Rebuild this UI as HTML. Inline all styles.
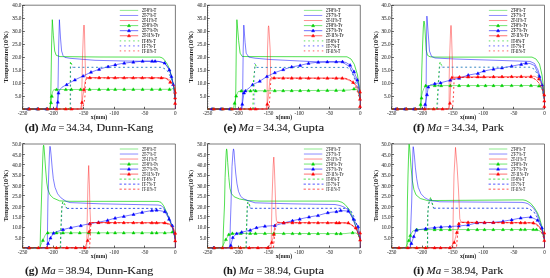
<!DOCTYPE html>
<html><head><meta charset="utf-8"><title>Temperature profiles</title>
<style>html,body{margin:0;padding:0;background:#fff;width:550px;height:278px;overflow:hidden}svg{display:block}</style>
</head><body>
<svg width="550" height="278" viewBox="0 0 550 278"><defs><clipPath id="c0"><rect x="20.6" y="5" width="156.8" height="106"/></clipPath><clipPath id="c1"><rect x="205.5" y="5" width="156.8" height="106"/></clipPath><clipPath id="c2"><rect x="389.7" y="5" width="156.8" height="106"/></clipPath><clipPath id="c3"><rect x="20.6" y="143.8" width="156.8" height="106"/></clipPath><clipPath id="c4"><rect x="205.5" y="143.8" width="156.8" height="106"/></clipPath><clipPath id="c5"><rect x="389.7" y="143.8" width="156.8" height="106"/></clipPath></defs><rect width="550" height="278" fill="#fff"/>
<g>
<path d="M22.6 5.2H175.4V109" fill="none" stroke="#5a5a5a" stroke-width="0.8"/>
<path d="M22.6 5V109H175.4" fill="none" stroke="#333" stroke-width="0.8"/>
<path d="M22.6 106.4H23.5M22.6 103.8H23.5M22.6 101.2H23.5M22.6 98.6H23.5M22.6 93.4H23.5M22.6 90.8H23.5M22.6 88.2H23.5M22.6 85.6H23.5M22.6 80.4H23.5M22.6 77.8H23.5M22.6 75.2H23.5M22.6 72.6H23.5M22.6 67.4H23.5M22.6 64.8H23.5M22.6 62.2H23.5M22.6 59.6H23.5M22.6 54.4H23.5M22.6 51.8H23.5M22.6 49.2H23.5M22.6 46.6H23.5M22.6 41.4H23.5M22.6 38.8H23.5M22.6 36.2H23.5M22.6 33.6H23.5M22.6 28.4H23.5M22.6 25.8H23.5M22.6 23.2H23.5M22.6 20.6H23.5M22.6 15.4H23.5M22.6 12.8H23.5M22.6 10.2H23.5M22.6 7.6H23.5" stroke="#333" stroke-width="0.5" fill="none"/>
<path d="M22.5 109V106.8M53.5 109V106.8M83.5 109V106.8M114.5 109V106.8M144.5 109V106.8M175.5 109V106.8M22.6 109.5H24.8M22.6 96.5H24.8M22.6 83.5H24.8M22.6 70.5H24.8M22.6 57.5H24.8M22.6 44.5H24.8M22.6 31.5H24.8M22.6 18.5H24.8M22.6 5.5H24.8" stroke="#333" stroke-width="0.8" fill="none"/>
<g font-family="Liberation Serif, serif" font-size="5.2" fill="#333" stroke="#333" stroke-width="0.06"><text x="22.6" y="115" text-anchor="middle">-250</text><text x="53.16" y="115" text-anchor="middle">-200</text><text x="83.72" y="115" text-anchor="middle">-150</text><text x="114.28" y="115" text-anchor="middle">-100</text><text x="144.84" y="115" text-anchor="middle">-50</text><text x="175.4" y="115" text-anchor="middle">0</text><text x="21.4" y="98.3" text-anchor="end">5.0</text><text x="21.4" y="85.3" text-anchor="end">10.0</text><text x="21.4" y="72.3" text-anchor="end">15.0</text><text x="21.4" y="59.3" text-anchor="end">20.0</text><text x="21.4" y="46.3" text-anchor="end">25.0</text><text x="21.4" y="33.3" text-anchor="end">30.0</text><text x="21.4" y="20.3" text-anchor="end">35.0</text><text x="21.4" y="7.3" text-anchor="end">40.0</text></g>
<text x="99" y="118.7" text-anchor="middle" font-family="Liberation Serif, serif" font-weight="bold" font-size="5.8" fill="#222">x(mm)</text>
<text transform="translate(8.4 56.8) rotate(-90)" x="0" y="0" text-anchor="middle" font-family="Liberation Serif, serif" font-weight="bold" font-size="5.6" fill="#222" textLength="51.2" lengthAdjust="spacingAndGlyphs">Temperature(10<tspan font-size="3.6" dy="-2">3</tspan><tspan dy="2">K)</tspan></text>
<g clip-path="url(#c0)">
<polyline points="22.6,109 50.3,109 50.8,95 51.6,45 52.3,19.7 53.4,35.9 54.7,51 56.2,55.3 60,56.6 100,57 159.9,57.1 162,57.8 164.2,59.5 167.6,64.7 169.8,69.9 171.5,76 173.2,84 174.5,92 175.4,100" fill="none" stroke="#00d000" stroke-width="0.85" stroke-linejoin="round" stroke-opacity="0.8"/>
<polyline points="22.6,109 57.4,109 57.9,95 58.7,45 59.4,19.7 60.5,38 61.6,51 63,55.5 64.8,57.4 70,58.3 95,60.3 125,61 145,61.3 158,61.3 161,61.8 164.6,63.2 167.5,66.5 169.4,70 171,75 172.5,81 174,88 175.4,100" fill="none" stroke="#0000ff" stroke-width="0.85" stroke-linejoin="round" stroke-opacity="0.6"/>
<polyline points="22.6,109 81.8,109 81.9,90 82.4,60 83.6,27 84,25 84.4,27 85.1,60 85.6,76 86.3,77.6 88,77.7 165,77.8 170,80 173,84 175,89 175.4,100" fill="none" stroke="#ff0000" stroke-width="0.75" stroke-linejoin="round" stroke-opacity="0.55"/>
<polyline points="22.6,109 49.4,109 51,102.7 51.8,96.2 52.5,92 53.7,89.7 56,89.5 171.3,89.3 174.4,87.8 175.4,100 175.4,109" fill="none" stroke="#00d000" stroke-width="0.7" stroke-linejoin="round" stroke-opacity="0.7"/>
<path d="M27.35 110.1L30.45 110.1L28.9 107.4Z" fill="#00d000" stroke="#00d000" stroke-width="0.45" stroke-linejoin="miter"/>
<path d="M36.45 110.1L39.55 110.1L38 107.4Z" fill="#00d000" stroke="#00d000" stroke-width="0.45" stroke-linejoin="miter"/>
<path d="M45.55 110.1L48.65 110.1L47.1 107.4Z" fill="#00d000" stroke="#00d000" stroke-width="0.45" stroke-linejoin="miter"/>
<path d="M49.45 103.8L52.55 103.8L51 101.1Z" fill="#00d000" stroke="#00d000" stroke-width="0.45" stroke-linejoin="miter"/>
<path d="M50.25 97.3L53.35 97.3L51.8 94.6Z" fill="#00d000" stroke="#00d000" stroke-width="0.45" stroke-linejoin="miter"/>
<path d="M55.05 90.6L58.15 90.6L56.6 87.9Z" fill="#00d000" stroke="#00d000" stroke-width="0.45" stroke-linejoin="miter"/>
<path d="M64.25 90.58L67.35 90.58L65.8 87.88Z" fill="#00d000" stroke="#00d000" stroke-width="0.45" stroke-linejoin="miter"/>
<path d="M69.85 90.57L72.95 90.57L71.4 87.87Z" fill="#00d000" stroke="#00d000" stroke-width="0.45" stroke-linejoin="miter"/>
<path d="M79.05 90.56L82.15 90.56L80.6 87.86Z" fill="#00d000" stroke="#00d000" stroke-width="0.45" stroke-linejoin="miter"/>
<path d="M88.05 90.54L91.15 90.54L89.6 87.84Z" fill="#00d000" stroke="#00d000" stroke-width="0.45" stroke-linejoin="miter"/>
<path d="M97.55 90.53L100.65 90.53L99.1 87.83Z" fill="#00d000" stroke="#00d000" stroke-width="0.45" stroke-linejoin="miter"/>
<path d="M106.55 90.51L109.65 90.51L108.1 87.81Z" fill="#00d000" stroke="#00d000" stroke-width="0.45" stroke-linejoin="miter"/>
<path d="M113.65 90.5L116.75 90.5L115.2 87.8Z" fill="#00d000" stroke="#00d000" stroke-width="0.45" stroke-linejoin="miter"/>
<path d="M122.65 90.48L125.75 90.48L124.2 87.78Z" fill="#00d000" stroke="#00d000" stroke-width="0.45" stroke-linejoin="miter"/>
<path d="M131.75 90.47L134.85 90.47L133.3 87.77Z" fill="#00d000" stroke="#00d000" stroke-width="0.45" stroke-linejoin="miter"/>
<path d="M141.05 90.45L144.15 90.45L142.6 87.75Z" fill="#00d000" stroke="#00d000" stroke-width="0.45" stroke-linejoin="miter"/>
<path d="M150.25 90.43L153.35 90.43L151.8 87.73Z" fill="#00d000" stroke="#00d000" stroke-width="0.45" stroke-linejoin="miter"/>
<path d="M158.55 90.42L161.65 90.42L160.1 87.72Z" fill="#00d000" stroke="#00d000" stroke-width="0.45" stroke-linejoin="miter"/>
<path d="M167.95 90.4L171.05 90.4L169.5 87.7Z" fill="#00d000" stroke="#00d000" stroke-width="0.45" stroke-linejoin="miter"/>
<polyline points="22.6,109 55.9,109 57.8,102.1 58.5,93 60,89.5 62,87.2 66.7,84.6 74.9,79.9 83.1,76 91,72.2 99.1,69.3 108.1,66.6 115.2,64.8 124.2,63.1 133.3,62.1 142.4,61.2 155.1,61.2 159,61.6 164.6,63 169.4,69.9 171.4,76.5 173.2,84.4 175.4,100 175.4,109" fill="none" stroke="#0000ff" stroke-width="0.7" stroke-linejoin="round" stroke-opacity="0.75"/>
<path d="M26.65 110.1L29.75 110.1L28.2 107.4Z" fill="#0000ff" stroke="#0000ff" stroke-width="0.45" stroke-linejoin="miter"/>
<path d="M35.75 110.1L38.85 110.1L37.3 107.4Z" fill="#0000ff" stroke="#0000ff" stroke-width="0.45" stroke-linejoin="miter"/>
<path d="M44.85 110.1L47.95 110.1L46.4 107.4Z" fill="#0000ff" stroke="#0000ff" stroke-width="0.45" stroke-linejoin="miter"/>
<path d="M56.25 103.2L59.35 103.2L57.8 100.5Z" fill="#0000ff" stroke="#0000ff" stroke-width="0.45" stroke-linejoin="miter"/>
<path d="M56.95 94.1L60.05 94.1L58.5 91.4Z" fill="#0000ff" stroke="#0000ff" stroke-width="0.45" stroke-linejoin="miter"/>
<path d="M65.15 85.7L68.25 85.7L66.7 83Z" fill="#0000ff" stroke="#0000ff" stroke-width="0.45" stroke-linejoin="miter"/>
<path d="M73.35 81L76.45 81L74.9 78.3Z" fill="#0000ff" stroke="#0000ff" stroke-width="0.45" stroke-linejoin="miter"/>
<path d="M81.55 77.1L84.65 77.1L83.1 74.4Z" fill="#0000ff" stroke="#0000ff" stroke-width="0.45" stroke-linejoin="miter"/>
<path d="M89.45 73.3L92.55 73.3L91 70.6Z" fill="#0000ff" stroke="#0000ff" stroke-width="0.45" stroke-linejoin="miter"/>
<path d="M97.55 70.4L100.65 70.4L99.1 67.7Z" fill="#0000ff" stroke="#0000ff" stroke-width="0.45" stroke-linejoin="miter"/>
<path d="M106.55 67.7L109.65 67.7L108.1 65Z" fill="#0000ff" stroke="#0000ff" stroke-width="0.45" stroke-linejoin="miter"/>
<path d="M113.65 65.9L116.75 65.9L115.2 63.2Z" fill="#0000ff" stroke="#0000ff" stroke-width="0.45" stroke-linejoin="miter"/>
<path d="M122.65 64.2L125.75 64.2L124.2 61.5Z" fill="#0000ff" stroke="#0000ff" stroke-width="0.45" stroke-linejoin="miter"/>
<path d="M131.75 63.2L134.85 63.2L133.3 60.5Z" fill="#0000ff" stroke="#0000ff" stroke-width="0.45" stroke-linejoin="miter"/>
<path d="M141.05 62.3L144.15 62.3L142.6 59.6Z" fill="#0000ff" stroke="#0000ff" stroke-width="0.45" stroke-linejoin="miter"/>
<path d="M150.55 62.3L153.65 62.3L152.1 59.6Z" fill="#0000ff" stroke="#0000ff" stroke-width="0.45" stroke-linejoin="miter"/>
<path d="M153.55 62.3L156.65 62.3L155.1 59.6Z" fill="#0000ff" stroke="#0000ff" stroke-width="0.45" stroke-linejoin="miter"/>
<path d="M163.05 64.1L166.15 64.1L164.6 61.4Z" fill="#0000ff" stroke="#0000ff" stroke-width="0.45" stroke-linejoin="miter"/>
<path d="M167.85 71L170.95 71L169.4 68.3Z" fill="#0000ff" stroke="#0000ff" stroke-width="0.45" stroke-linejoin="miter"/>
<path d="M169.85 77.6L172.95 77.6L171.4 74.9Z" fill="#0000ff" stroke="#0000ff" stroke-width="0.45" stroke-linejoin="miter"/>
<path d="M171.65 85.5L174.75 85.5L173.2 82.8Z" fill="#0000ff" stroke="#0000ff" stroke-width="0.45" stroke-linejoin="miter"/>
<polyline points="22.6,109 80.5,109 82,102.4 83,95 84,89.6 85,82 86.3,77.9 89.8,77.7 161.3,77.8 166,78.5 170.2,82 172.5,84 174.4,85.6 175.4,88 175.4,109" fill="none" stroke="#ff0000" stroke-width="0.7" stroke-linejoin="round" stroke-opacity="0.6"/>
<path d="M27.85 110.1L30.95 110.1L29.4 107.4Z" fill="#ff0000" stroke="#ff0000" stroke-width="0.45" stroke-linejoin="miter"/>
<path d="M36.95 110.1L40.05 110.1L38.5 107.4Z" fill="#ff0000" stroke="#ff0000" stroke-width="0.45" stroke-linejoin="miter"/>
<path d="M46.05 110.1L49.15 110.1L47.6 107.4Z" fill="#ff0000" stroke="#ff0000" stroke-width="0.45" stroke-linejoin="miter"/>
<path d="M54.95 110.1L58.05 110.1L56.5 107.4Z" fill="#ff0000" stroke="#ff0000" stroke-width="0.45" stroke-linejoin="miter"/>
<path d="M64.25 110.1L67.35 110.1L65.8 107.4Z" fill="#ff0000" stroke="#ff0000" stroke-width="0.45" stroke-linejoin="miter"/>
<path d="M69.85 110.1L72.95 110.1L71.4 107.4Z" fill="#ff0000" stroke="#ff0000" stroke-width="0.45" stroke-linejoin="miter"/>
<path d="M80.45 103.5L83.55 103.5L82 100.8Z" fill="#ff0000" stroke="#ff0000" stroke-width="0.45" stroke-linejoin="miter"/>
<path d="M82.45 90.7L85.55 90.7L84 88Z" fill="#ff0000" stroke="#ff0000" stroke-width="0.45" stroke-linejoin="miter"/>
<path d="M88.25 78.8L91.35 78.8L89.8 76.1Z" fill="#ff0000" stroke="#ff0000" stroke-width="0.45" stroke-linejoin="miter"/>
<path d="M97.55 78.81L100.65 78.81L99.1 76.11Z" fill="#ff0000" stroke="#ff0000" stroke-width="0.45" stroke-linejoin="miter"/>
<path d="M106.55 78.83L109.65 78.83L108.1 76.13Z" fill="#ff0000" stroke="#ff0000" stroke-width="0.45" stroke-linejoin="miter"/>
<path d="M113.65 78.84L116.75 78.84L115.2 76.14Z" fill="#ff0000" stroke="#ff0000" stroke-width="0.45" stroke-linejoin="miter"/>
<path d="M122.65 78.85L125.75 78.85L124.2 76.15Z" fill="#ff0000" stroke="#ff0000" stroke-width="0.45" stroke-linejoin="miter"/>
<path d="M131.75 78.86L134.85 78.86L133.3 76.16Z" fill="#ff0000" stroke="#ff0000" stroke-width="0.45" stroke-linejoin="miter"/>
<path d="M140.85 78.87L143.95 78.87L142.4 76.17Z" fill="#ff0000" stroke="#ff0000" stroke-width="0.45" stroke-linejoin="miter"/>
<path d="M150.35 78.89L153.45 78.89L151.9 76.19Z" fill="#ff0000" stroke="#ff0000" stroke-width="0.45" stroke-linejoin="miter"/>
<path d="M159.75 78.9L162.85 78.9L161.3 76.2Z" fill="#ff0000" stroke="#ff0000" stroke-width="0.45" stroke-linejoin="miter"/>
<path d="M168.65 83.3L171.75 83.3L170.2 80.6Z" fill="#ff0000" stroke="#ff0000" stroke-width="0.45" stroke-linejoin="miter"/>
<path d="M173.55 93.3L176.65 93.3L175.1 90.6Z" fill="#ff0000" stroke="#ff0000" stroke-width="0.45" stroke-linejoin="miter"/>
<path d="M173.55 98.9L176.65 98.9L175.1 96.2Z" fill="#ff0000" stroke="#ff0000" stroke-width="0.45" stroke-linejoin="miter"/>
<path d="M173.55 104.4L176.65 104.4L175.1 101.7Z" fill="#ff0000" stroke="#ff0000" stroke-width="0.45" stroke-linejoin="miter"/>
<polyline points="22.6,109 70.2,109" fill="none" stroke="#00d000" stroke-width="0.8" stroke-linejoin="round" stroke-dasharray="1.9 2.6" stroke-opacity="0.8"/>
<polyline points="70.2,109 70.4,61.3 72.5,66.2 73.5,67.3" fill="none" stroke="#00d000" stroke-width="0.9" stroke-linejoin="round" stroke-dasharray="1.9 2.6" stroke-opacity="0.95"/>
<polyline points="70.6,109 70.6,66 72,67.3 73.5,67.3" fill="none" stroke="#0000ff" stroke-width="0.8" stroke-linejoin="round" stroke-dasharray="1.9 2.6" stroke-opacity="0.4"/>
<polyline points="73.5,67.3 161.6,67.3 165.9,69.4 168.5,72.5 171,78 173.5,87 175.4,100" fill="none" stroke="#2a80c0" stroke-width="1.0" stroke-linejoin="round" stroke-dasharray="1.9 2.6" stroke-opacity="0.95"/>
<polyline points="22.6,109 82.8,109 84.5,100 85,95.6 85.5,81.3 87,78.3 89,78 166,78 171,82 174,86 175.4,100" fill="none" stroke="#ff0000" stroke-width="0.9" stroke-linejoin="round" stroke-dasharray="1.9 2.6" stroke-opacity="0.85"/>
</g>
<path d="M119.8 10.4H138.2" stroke="#00d000" stroke-width="0.75" stroke-opacity="0.6"/>
<path d="M119.8 15.47H138.2" stroke="#0000ff" stroke-width="0.75" stroke-opacity="0.6"/>
<path d="M119.8 20.54H138.2" stroke="#ff0000" stroke-width="0.75" stroke-opacity="0.6"/>
<path d="M119.8 25.61H138.2" stroke="#00d000" stroke-width="0.75" stroke-opacity="0.75"/>
<path d="M127.45 26.71L130.55 26.71L129 24.01Z" fill="#00d000" stroke="#00d000" stroke-width="0.45" stroke-linejoin="miter"/>
<path d="M119.8 30.68H138.2" stroke="#0000ff" stroke-width="0.75" stroke-opacity="0.75"/>
<path d="M127.45 31.78L130.55 31.78L129 29.08Z" fill="#0000ff" stroke="#0000ff" stroke-width="0.45" stroke-linejoin="miter"/>
<path d="M119.8 35.75H138.2" stroke="#ff0000" stroke-width="0.75" stroke-opacity="0.75"/>
<path d="M127.45 36.85L130.55 36.85L129 34.15Z" fill="#ff0000" stroke="#ff0000" stroke-width="0.45" stroke-linejoin="miter"/>
<path d="M119.7 40.82H139.2" stroke="#00d000" stroke-width="1.3" stroke-opacity="0.5" stroke-dasharray="1.5 3.0"/>
<path d="M119.7 45.89H139.2" stroke="#0000ff" stroke-width="1.3" stroke-opacity="0.5" stroke-dasharray="1.5 3.0"/>
<path d="M119.7 50.96H139.2" stroke="#ff0000" stroke-width="1.3" stroke-opacity="0.5" stroke-dasharray="1.5 3.0"/>
<g font-family="Liberation Serif, serif" font-weight="bold" font-size="5.2" fill="#1e1e1e"><text x="141.95" y="12.1" textLength="14.38" lengthAdjust="spacingAndGlyphs">2T-8%-T</text><text x="141.95" y="17.17" textLength="14.38" lengthAdjust="spacingAndGlyphs">2T-7%-T</text><text x="141.96" y="22.24" textLength="15.19" lengthAdjust="spacingAndGlyphs">2T-11%-T</text><text x="141.95" y="27.31" textLength="16.21" lengthAdjust="spacingAndGlyphs">2T-8%-Tv</text><text x="141.95" y="32.38" textLength="16.21" lengthAdjust="spacingAndGlyphs">2T-7%-Tv</text><text x="141.95" y="37.45" textLength="17.62" lengthAdjust="spacingAndGlyphs">2T-11%-Tv</text><text x="141.82" y="42.52" textLength="13.82" lengthAdjust="spacingAndGlyphs">1T-8%-T</text><text x="141.82" y="47.59" textLength="13.82" lengthAdjust="spacingAndGlyphs">1T-7%-T</text><text x="141.84" y="52.66" textLength="14.31" lengthAdjust="spacingAndGlyphs">1T-11%-T</text></g>
</g>
<g>
<path d="M207.5 5.2H360.3V109" fill="none" stroke="#5a5a5a" stroke-width="0.8"/>
<path d="M207.5 5V109H360.3" fill="none" stroke="#333" stroke-width="0.8"/>
<path d="M207.5 106.4H208.4M207.5 103.8H208.4M207.5 101.2H208.4M207.5 98.6H208.4M207.5 93.4H208.4M207.5 90.8H208.4M207.5 88.2H208.4M207.5 85.6H208.4M207.5 80.4H208.4M207.5 77.8H208.4M207.5 75.2H208.4M207.5 72.6H208.4M207.5 67.4H208.4M207.5 64.8H208.4M207.5 62.2H208.4M207.5 59.6H208.4M207.5 54.4H208.4M207.5 51.8H208.4M207.5 49.2H208.4M207.5 46.6H208.4M207.5 41.4H208.4M207.5 38.8H208.4M207.5 36.2H208.4M207.5 33.6H208.4M207.5 28.4H208.4M207.5 25.8H208.4M207.5 23.2H208.4M207.5 20.6H208.4M207.5 15.4H208.4M207.5 12.8H208.4M207.5 10.2H208.4M207.5 7.6H208.4" stroke="#333" stroke-width="0.5" fill="none"/>
<path d="M207.5 109V106.8M238.5 109V106.8M268.5 109V106.8M299.5 109V106.8M329.5 109V106.8M360.5 109V106.8M207.5 109.5H209.7M207.5 96.5H209.7M207.5 83.5H209.7M207.5 70.5H209.7M207.5 57.5H209.7M207.5 44.5H209.7M207.5 31.5H209.7M207.5 18.5H209.7M207.5 5.5H209.7" stroke="#333" stroke-width="0.8" fill="none"/>
<g font-family="Liberation Serif, serif" font-size="5.2" fill="#333" stroke="#333" stroke-width="0.06"><text x="207.5" y="115" text-anchor="middle">-250</text><text x="238.06" y="115" text-anchor="middle">-200</text><text x="268.62" y="115" text-anchor="middle">-150</text><text x="299.18" y="115" text-anchor="middle">-100</text><text x="329.74" y="115" text-anchor="middle">-50</text><text x="360.3" y="115" text-anchor="middle">0</text><text x="206.3" y="98.3" text-anchor="end">5.0</text><text x="206.3" y="85.3" text-anchor="end">10.0</text><text x="206.3" y="72.3" text-anchor="end">15.0</text><text x="206.3" y="59.3" text-anchor="end">20.0</text><text x="206.3" y="46.3" text-anchor="end">25.0</text><text x="206.3" y="33.3" text-anchor="end">30.0</text><text x="206.3" y="20.3" text-anchor="end">35.0</text><text x="206.3" y="7.3" text-anchor="end">40.0</text></g>
<text x="283.9" y="118.7" text-anchor="middle" font-family="Liberation Serif, serif" font-weight="bold" font-size="5.8" fill="#222">x(mm)</text>
<text transform="translate(193.3 56.8) rotate(-90)" x="0" y="0" text-anchor="middle" font-family="Liberation Serif, serif" font-weight="bold" font-size="5.6" fill="#222" textLength="51.2" lengthAdjust="spacingAndGlyphs">Temperature(10<tspan font-size="3.6" dy="-2">3</tspan><tspan dy="2">K)</tspan></text>
<g clip-path="url(#c1)">
<polyline points="207.5,109 235.2,109 235.8,90 236.3,45 236.9,19.7 238.6,40.3 240.1,53.2 242.3,56.5 250,56.6 347,56.8 351,59 354.3,64.3 357.5,75 359.5,88.4 360.3,100" fill="none" stroke="#00d000" stroke-width="0.85" stroke-linejoin="round" stroke-opacity="0.8"/>
<polyline points="207.5,109 241.9,109 242.7,90 243.2,50 243.8,25.1 245.1,42.4 246.2,53.2 248.8,57.1 255,58.2 270,59.5 318,61.9 342,62 349.5,66.5 354.3,76.3 357.9,83.5 360.3,100" fill="none" stroke="#0000ff" stroke-width="0.85" stroke-linejoin="round" stroke-opacity="0.6"/>
<polyline points="207.5,109 267.1,109 267.2,78 267.5,50 268.3,27.5 268.6,25.8 268.9,27.5 270.2,50 270.4,60 270.6,76 271.5,77.8 273,78 345,78.2 350,80 353.1,82.3 357,87 360.3,100" fill="none" stroke="#ff0000" stroke-width="0.75" stroke-linejoin="round" stroke-opacity="0.55"/>
<polyline points="207.5,109 233.1,109 234.6,103.2 236.2,96 238.2,91.5 241.3,90.9 343.6,90.3 350,90 354,88.9 357,89.5 359,93 360.3,100 360.3,109" fill="none" stroke="#00d000" stroke-width="0.7" stroke-linejoin="round" stroke-opacity="0.7"/>
<path d="M211.45 110.1L214.55 110.1L213 107.4Z" fill="#00d000" stroke="#00d000" stroke-width="0.45" stroke-linejoin="miter"/>
<path d="M220.45 110.1L223.55 110.1L222 107.4Z" fill="#00d000" stroke="#00d000" stroke-width="0.45" stroke-linejoin="miter"/>
<path d="M229.45 110.1L232.55 110.1L231 107.4Z" fill="#00d000" stroke="#00d000" stroke-width="0.45" stroke-linejoin="miter"/>
<path d="M233.05 104.3L236.15 104.3L234.6 101.6Z" fill="#00d000" stroke="#00d000" stroke-width="0.45" stroke-linejoin="miter"/>
<path d="M234.65 97.1L237.75 97.1L236.2 94.4Z" fill="#00d000" stroke="#00d000" stroke-width="0.45" stroke-linejoin="miter"/>
<path d="M239.75 92L242.85 92L241.3 89.3Z" fill="#00d000" stroke="#00d000" stroke-width="0.45" stroke-linejoin="miter"/>
<path d="M248.95 91.95L252.05 91.95L250.5 89.25Z" fill="#00d000" stroke="#00d000" stroke-width="0.45" stroke-linejoin="miter"/>
<path d="M254.15 91.92L257.25 91.92L255.7 89.22Z" fill="#00d000" stroke="#00d000" stroke-width="0.45" stroke-linejoin="miter"/>
<path d="M263.35 91.86L266.45 91.86L264.9 89.16Z" fill="#00d000" stroke="#00d000" stroke-width="0.45" stroke-linejoin="miter"/>
<path d="M273.25 91.8L276.35 91.8L274.8 89.1Z" fill="#00d000" stroke="#00d000" stroke-width="0.45" stroke-linejoin="miter"/>
<path d="M281.65 91.75L284.75 91.75L283.2 89.05Z" fill="#00d000" stroke="#00d000" stroke-width="0.45" stroke-linejoin="miter"/>
<path d="M290.15 91.7L293.25 91.7L291.7 89Z" fill="#00d000" stroke="#00d000" stroke-width="0.45" stroke-linejoin="miter"/>
<path d="M298.55 91.66L301.65 91.66L300.1 88.96Z" fill="#00d000" stroke="#00d000" stroke-width="0.45" stroke-linejoin="miter"/>
<path d="M306.95 91.61L310.05 91.61L308.5 88.91Z" fill="#00d000" stroke="#00d000" stroke-width="0.45" stroke-linejoin="miter"/>
<path d="M316.65 91.55L319.75 91.55L318.2 88.85Z" fill="#00d000" stroke="#00d000" stroke-width="0.45" stroke-linejoin="miter"/>
<path d="M325.75 91.5L328.85 91.5L327.3 88.8Z" fill="#00d000" stroke="#00d000" stroke-width="0.45" stroke-linejoin="miter"/>
<path d="M334.55 91.44L337.65 91.44L336.1 88.74Z" fill="#00d000" stroke="#00d000" stroke-width="0.45" stroke-linejoin="miter"/>
<path d="M342.05 91.4L345.15 91.4L343.6 88.7Z" fill="#00d000" stroke="#00d000" stroke-width="0.45" stroke-linejoin="miter"/>
<path d="M352.45 90L355.55 90L354 87.3Z" fill="#00d000" stroke="#00d000" stroke-width="0.45" stroke-linejoin="miter"/>
<polyline points="207.5,109 241.3,109 242.3,104.2 244,92.9 245.4,90.9 250.5,86.8 252.6,84.7 259.8,81.2 266.9,76.5 274.8,72.7 283.2,69.6 291.7,66.9 300.1,65.4 308.5,63.3 318.2,62.2 327.3,61.8 342.5,61.7 346,62.5 350.1,65.1 354,71.6 357,79 359,86 360.3,100 360.3,109" fill="none" stroke="#0000ff" stroke-width="0.7" stroke-linejoin="round" stroke-opacity="0.75"/>
<path d="M210.45 110.1L213.55 110.1L212 107.4Z" fill="#0000ff" stroke="#0000ff" stroke-width="0.45" stroke-linejoin="miter"/>
<path d="M219.45 110.1L222.55 110.1L221 107.4Z" fill="#0000ff" stroke="#0000ff" stroke-width="0.45" stroke-linejoin="miter"/>
<path d="M228.45 110.1L231.55 110.1L230 107.4Z" fill="#0000ff" stroke="#0000ff" stroke-width="0.45" stroke-linejoin="miter"/>
<path d="M240.75 105.3L243.85 105.3L242.3 102.6Z" fill="#0000ff" stroke="#0000ff" stroke-width="0.45" stroke-linejoin="miter"/>
<path d="M242.45 94L245.55 94L244 91.3Z" fill="#0000ff" stroke="#0000ff" stroke-width="0.45" stroke-linejoin="miter"/>
<path d="M243.85 92L246.95 92L245.4 89.3Z" fill="#0000ff" stroke="#0000ff" stroke-width="0.45" stroke-linejoin="miter"/>
<path d="M251.05 85.8L254.15 85.8L252.6 83.1Z" fill="#0000ff" stroke="#0000ff" stroke-width="0.45" stroke-linejoin="miter"/>
<path d="M258.25 82.3L261.35 82.3L259.8 79.6Z" fill="#0000ff" stroke="#0000ff" stroke-width="0.45" stroke-linejoin="miter"/>
<path d="M265.35 77.6L268.45 77.6L266.9 74.9Z" fill="#0000ff" stroke="#0000ff" stroke-width="0.45" stroke-linejoin="miter"/>
<path d="M273.25 73.8L276.35 73.8L274.8 71.1Z" fill="#0000ff" stroke="#0000ff" stroke-width="0.45" stroke-linejoin="miter"/>
<path d="M281.65 70.7L284.75 70.7L283.2 68Z" fill="#0000ff" stroke="#0000ff" stroke-width="0.45" stroke-linejoin="miter"/>
<path d="M290.15 68L293.25 68L291.7 65.3Z" fill="#0000ff" stroke="#0000ff" stroke-width="0.45" stroke-linejoin="miter"/>
<path d="M298.55 66.5L301.65 66.5L300.1 63.8Z" fill="#0000ff" stroke="#0000ff" stroke-width="0.45" stroke-linejoin="miter"/>
<path d="M306.95 64.4L310.05 64.4L308.5 61.7Z" fill="#0000ff" stroke="#0000ff" stroke-width="0.45" stroke-linejoin="miter"/>
<path d="M316.65 63.3L319.75 63.3L318.2 60.6Z" fill="#0000ff" stroke="#0000ff" stroke-width="0.45" stroke-linejoin="miter"/>
<path d="M325.75 62.9L328.85 62.9L327.3 60.2Z" fill="#0000ff" stroke="#0000ff" stroke-width="0.45" stroke-linejoin="miter"/>
<path d="M334.65 62.84L337.75 62.84L336.2 60.14Z" fill="#0000ff" stroke="#0000ff" stroke-width="0.45" stroke-linejoin="miter"/>
<path d="M340.95 62.8L344.05 62.8L342.5 60.1Z" fill="#0000ff" stroke="#0000ff" stroke-width="0.45" stroke-linejoin="miter"/>
<path d="M348.55 66.2L351.65 66.2L350.1 63.5Z" fill="#0000ff" stroke="#0000ff" stroke-width="0.45" stroke-linejoin="miter"/>
<path d="M352.45 72.7L355.55 72.7L354 70Z" fill="#0000ff" stroke="#0000ff" stroke-width="0.45" stroke-linejoin="miter"/>
<path d="M355.75 81.1L358.85 81.1L357.3 78.4Z" fill="#0000ff" stroke="#0000ff" stroke-width="0.45" stroke-linejoin="miter"/>
<polyline points="207.5,109 265.9,109 267.3,104.2 268.5,95 270,78.6 272,78 342.3,78.2 347,79.5 353.1,82.3 357,86 360.3,90 360.3,109" fill="none" stroke="#ff0000" stroke-width="0.7" stroke-linejoin="round" stroke-opacity="0.6"/>
<path d="M212.45 110.1L215.55 110.1L214 107.4Z" fill="#ff0000" stroke="#ff0000" stroke-width="0.45" stroke-linejoin="miter"/>
<path d="M221.45 110.1L224.55 110.1L223 107.4Z" fill="#ff0000" stroke="#ff0000" stroke-width="0.45" stroke-linejoin="miter"/>
<path d="M230.45 110.1L233.55 110.1L232 107.4Z" fill="#ff0000" stroke="#ff0000" stroke-width="0.45" stroke-linejoin="miter"/>
<path d="M238.75 110.1L241.85 110.1L240.3 107.4Z" fill="#ff0000" stroke="#ff0000" stroke-width="0.45" stroke-linejoin="miter"/>
<path d="M248.95 110.1L252.05 110.1L250.5 107.4Z" fill="#ff0000" stroke="#ff0000" stroke-width="0.45" stroke-linejoin="miter"/>
<path d="M254.15 110.1L257.25 110.1L255.7 107.4Z" fill="#ff0000" stroke="#ff0000" stroke-width="0.45" stroke-linejoin="miter"/>
<path d="M265.75 105.3L268.85 105.3L267.3 102.6Z" fill="#ff0000" stroke="#ff0000" stroke-width="0.45" stroke-linejoin="miter"/>
<path d="M272.55 79.11L275.65 79.11L274.1 76.41Z" fill="#ff0000" stroke="#ff0000" stroke-width="0.45" stroke-linejoin="miter"/>
<path d="M281.65 79.13L284.75 79.13L283.2 76.43Z" fill="#ff0000" stroke="#ff0000" stroke-width="0.45" stroke-linejoin="miter"/>
<path d="M290.15 79.16L293.25 79.16L291.7 76.46Z" fill="#ff0000" stroke="#ff0000" stroke-width="0.45" stroke-linejoin="miter"/>
<path d="M298.55 79.18L301.65 79.18L300.1 76.48Z" fill="#ff0000" stroke="#ff0000" stroke-width="0.45" stroke-linejoin="miter"/>
<path d="M306.95 79.2L310.05 79.2L308.5 76.5Z" fill="#ff0000" stroke="#ff0000" stroke-width="0.45" stroke-linejoin="miter"/>
<path d="M316.65 79.23L319.75 79.23L318.2 76.53Z" fill="#ff0000" stroke="#ff0000" stroke-width="0.45" stroke-linejoin="miter"/>
<path d="M325.75 79.26L328.85 79.26L327.3 76.56Z" fill="#ff0000" stroke="#ff0000" stroke-width="0.45" stroke-linejoin="miter"/>
<path d="M334.65 79.28L337.75 79.28L336.2 76.58Z" fill="#ff0000" stroke="#ff0000" stroke-width="0.45" stroke-linejoin="miter"/>
<path d="M340.75 79.3L343.85 79.3L342.3 76.6Z" fill="#ff0000" stroke="#ff0000" stroke-width="0.45" stroke-linejoin="miter"/>
<path d="M351.55 83.4L354.65 83.4L353.1 80.7Z" fill="#ff0000" stroke="#ff0000" stroke-width="0.45" stroke-linejoin="miter"/>
<path d="M358.45 93.1L361.55 93.1L360 90.4Z" fill="#ff0000" stroke="#ff0000" stroke-width="0.45" stroke-linejoin="miter"/>
<path d="M358.45 100.3L361.55 100.3L360 97.6Z" fill="#ff0000" stroke="#ff0000" stroke-width="0.45" stroke-linejoin="miter"/>
<path d="M358.45 107.5L361.55 107.5L360 104.8Z" fill="#ff0000" stroke="#ff0000" stroke-width="0.45" stroke-linejoin="miter"/>
<polyline points="207.5,109 253,109" fill="none" stroke="#00d000" stroke-width="0.8" stroke-linejoin="round" stroke-dasharray="1.9 2.6" stroke-opacity="0.8"/>
<polyline points="253,109 253.5,80 255.3,64.2 256.7,67.4" fill="none" stroke="#00d000" stroke-width="0.9" stroke-linejoin="round" stroke-dasharray="1.9 2.6" stroke-opacity="0.95"/>
<polyline points="254.6,109 254.6,63.2 256.7,67.4" fill="none" stroke="#0000ff" stroke-width="0.8" stroke-linejoin="round" stroke-dasharray="1.9 2.6" stroke-opacity="0.4"/>
<polyline points="256.7,67.4 347,67.4 351,70 355,80 358,90 360.3,100" fill="none" stroke="#2a80c0" stroke-width="1.0" stroke-linejoin="round" stroke-dasharray="1.9 2.6" stroke-opacity="0.95"/>
<polyline points="207.5,109 269,109 270,95 270.5,85 271,78.5 273,78.3 345,78.3 350,80 355,85 360.3,100" fill="none" stroke="#ff0000" stroke-width="0.9" stroke-linejoin="round" stroke-dasharray="1.9 2.6" stroke-opacity="0.85"/>
</g>
<path d="M303.9 10.4H322.3" stroke="#00d000" stroke-width="0.75" stroke-opacity="0.6"/>
<path d="M303.9 15.47H322.3" stroke="#0000ff" stroke-width="0.75" stroke-opacity="0.6"/>
<path d="M303.9 20.54H322.3" stroke="#ff0000" stroke-width="0.75" stroke-opacity="0.6"/>
<path d="M303.9 25.61H322.3" stroke="#00d000" stroke-width="0.75" stroke-opacity="0.75"/>
<path d="M311.55 26.71L314.65 26.71L313.1 24.01Z" fill="#00d000" stroke="#00d000" stroke-width="0.45" stroke-linejoin="miter"/>
<path d="M303.9 30.68H322.3" stroke="#0000ff" stroke-width="0.75" stroke-opacity="0.75"/>
<path d="M311.55 31.78L314.65 31.78L313.1 29.08Z" fill="#0000ff" stroke="#0000ff" stroke-width="0.45" stroke-linejoin="miter"/>
<path d="M303.9 35.75H322.3" stroke="#ff0000" stroke-width="0.75" stroke-opacity="0.75"/>
<path d="M311.55 36.85L314.65 36.85L313.1 34.15Z" fill="#ff0000" stroke="#ff0000" stroke-width="0.45" stroke-linejoin="miter"/>
<path d="M303.8 40.82H323.3" stroke="#00d000" stroke-width="1.3" stroke-opacity="0.5" stroke-dasharray="1.5 3.0"/>
<path d="M303.8 45.89H323.3" stroke="#0000ff" stroke-width="1.3" stroke-opacity="0.5" stroke-dasharray="1.5 3.0"/>
<path d="M303.8 50.96H323.3" stroke="#ff0000" stroke-width="1.3" stroke-opacity="0.5" stroke-dasharray="1.5 3.0"/>
<g font-family="Liberation Serif, serif" font-weight="bold" font-size="5.2" fill="#1e1e1e"><text x="326.05" y="12.1" textLength="14.38" lengthAdjust="spacingAndGlyphs">2T-8%-T</text><text x="326.05" y="17.17" textLength="14.38" lengthAdjust="spacingAndGlyphs">2T-7%-T</text><text x="326.06" y="22.24" textLength="15.19" lengthAdjust="spacingAndGlyphs">2T-11%-T</text><text x="326.05" y="27.31" textLength="16.21" lengthAdjust="spacingAndGlyphs">2T-8%-Tv</text><text x="326.05" y="32.38" textLength="16.21" lengthAdjust="spacingAndGlyphs">2T-7%-Tv</text><text x="326.05" y="37.45" textLength="17.62" lengthAdjust="spacingAndGlyphs">2T-11%-Tv</text><text x="325.92" y="42.52" textLength="13.82" lengthAdjust="spacingAndGlyphs">1T-8%-T</text><text x="325.92" y="47.59" textLength="13.82" lengthAdjust="spacingAndGlyphs">1T-7%-T</text><text x="325.94" y="52.66" textLength="14.31" lengthAdjust="spacingAndGlyphs">1T-11%-T</text></g>
</g>
<g>
<path d="M391.7 5.2H544.5V109" fill="none" stroke="#5a5a5a" stroke-width="0.8"/>
<path d="M391.7 5V109H544.5" fill="none" stroke="#333" stroke-width="0.8"/>
<path d="M391.7 106.4H392.6M391.7 103.8H392.6M391.7 101.2H392.6M391.7 98.6H392.6M391.7 93.4H392.6M391.7 90.8H392.6M391.7 88.2H392.6M391.7 85.6H392.6M391.7 80.4H392.6M391.7 77.8H392.6M391.7 75.2H392.6M391.7 72.6H392.6M391.7 67.4H392.6M391.7 64.8H392.6M391.7 62.2H392.6M391.7 59.6H392.6M391.7 54.4H392.6M391.7 51.8H392.6M391.7 49.2H392.6M391.7 46.6H392.6M391.7 41.4H392.6M391.7 38.8H392.6M391.7 36.2H392.6M391.7 33.6H392.6M391.7 28.4H392.6M391.7 25.8H392.6M391.7 23.2H392.6M391.7 20.6H392.6M391.7 15.4H392.6M391.7 12.8H392.6M391.7 10.2H392.6M391.7 7.6H392.6" stroke="#333" stroke-width="0.5" fill="none"/>
<path d="M391.5 109V106.8M422.5 109V106.8M452.5 109V106.8M483.5 109V106.8M513.5 109V106.8M544.5 109V106.8M391.7 109.5H393.9M391.7 96.5H393.9M391.7 83.5H393.9M391.7 70.5H393.9M391.7 57.5H393.9M391.7 44.5H393.9M391.7 31.5H393.9M391.7 18.5H393.9M391.7 5.5H393.9" stroke="#333" stroke-width="0.8" fill="none"/>
<g font-family="Liberation Serif, serif" font-size="5.2" fill="#333" stroke="#333" stroke-width="0.06"><text x="391.7" y="115" text-anchor="middle">-250</text><text x="422.26" y="115" text-anchor="middle">-200</text><text x="452.82" y="115" text-anchor="middle">-150</text><text x="483.38" y="115" text-anchor="middle">-100</text><text x="513.94" y="115" text-anchor="middle">-50</text><text x="544.5" y="115" text-anchor="middle">0</text><text x="390.5" y="98.3" text-anchor="end">5.0</text><text x="390.5" y="85.3" text-anchor="end">10.0</text><text x="390.5" y="72.3" text-anchor="end">15.0</text><text x="390.5" y="59.3" text-anchor="end">20.0</text><text x="390.5" y="46.3" text-anchor="end">25.0</text><text x="390.5" y="33.3" text-anchor="end">30.0</text><text x="390.5" y="20.3" text-anchor="end">35.0</text><text x="390.5" y="7.3" text-anchor="end">40.0</text></g>
<text x="468.1" y="118.7" text-anchor="middle" font-family="Liberation Serif, serif" font-weight="bold" font-size="5.8" fill="#222">x(mm)</text>
<text transform="translate(377.5 56.8) rotate(-90)" x="0" y="0" text-anchor="middle" font-family="Liberation Serif, serif" font-weight="bold" font-size="5.6" fill="#222" textLength="51.2" lengthAdjust="spacingAndGlyphs">Temperature(10<tspan font-size="3.6" dy="-2">3</tspan><tspan dy="2">K)</tspan></text>
<g clip-path="url(#c2)">
<polyline points="391.7,109 420.9,109 421.2,95 421.8,70 422.6,45 423.3,28 423.8,21.5 424.1,21 424.6,24 425.3,35 426.2,50 427.5,55.3 430,56.8 435,57.1 532,57.1 536,59 539.5,64 542,75 543.8,90 544.5,100" fill="none" stroke="#00d000" stroke-width="0.85" stroke-linejoin="round" stroke-opacity="0.8"/>
<polyline points="391.7,109 426,109 426.2,80 426.5,40 426.9,16.1 428.4,36 429.5,51.1 431.6,56.5 435,58 455,59 530,61.4 534.5,63.5 538,70 541,80 543.5,90 544.5,100" fill="none" stroke="#0000ff" stroke-width="0.85" stroke-linejoin="round" stroke-opacity="0.6"/>
<polyline points="391.7,109 449.1,109 449.2,78 449.5,60 450.7,27 451,25.4 451.3,27 452.3,60 452.5,75 453.5,77.2 455,77.3 530,77 535,79 539,83 542.5,90 544.5,100" fill="none" stroke="#ff0000" stroke-width="0.75" stroke-linejoin="round" stroke-opacity="0.55"/>
<polyline points="391.7,109 420.2,109 421.2,98 422.5,92 424,88.2 425.7,85.7 428,85.6 535,85.5 539,86 542,88 544.5,100 544.5,109" fill="none" stroke="#00d000" stroke-width="0.7" stroke-linejoin="round" stroke-opacity="0.7"/>
<path d="M395.45 110.1L398.55 110.1L397 107.4Z" fill="#00d000" stroke="#00d000" stroke-width="0.45" stroke-linejoin="miter"/>
<path d="M404.45 110.1L407.55 110.1L406 107.4Z" fill="#00d000" stroke="#00d000" stroke-width="0.45" stroke-linejoin="miter"/>
<path d="M413.45 110.1L416.55 110.1L415 107.4Z" fill="#00d000" stroke="#00d000" stroke-width="0.45" stroke-linejoin="miter"/>
<path d="M419.05 105.6L422.15 105.6L420.6 102.9Z" fill="#00d000" stroke="#00d000" stroke-width="0.45" stroke-linejoin="miter"/>
<path d="M420.05 99.1L423.15 99.1L421.6 96.4Z" fill="#00d000" stroke="#00d000" stroke-width="0.45" stroke-linejoin="miter"/>
<path d="M424.15 86.8L427.25 86.8L425.7 84.1Z" fill="#00d000" stroke="#00d000" stroke-width="0.45" stroke-linejoin="miter"/>
<path d="M433.25 86.69L436.35 86.69L434.8 83.99Z" fill="#00d000" stroke="#00d000" stroke-width="0.45" stroke-linejoin="miter"/>
<path d="M439.65 86.69L442.75 86.69L441.2 83.99Z" fill="#00d000" stroke="#00d000" stroke-width="0.45" stroke-linejoin="miter"/>
<path d="M448.75 86.68L451.85 86.68L450.3 83.98Z" fill="#00d000" stroke="#00d000" stroke-width="0.45" stroke-linejoin="miter"/>
<path d="M457.55 86.67L460.65 86.67L459.1 83.97Z" fill="#00d000" stroke="#00d000" stroke-width="0.45" stroke-linejoin="miter"/>
<path d="M466.65 86.66L469.75 86.66L468.2 83.96Z" fill="#00d000" stroke="#00d000" stroke-width="0.45" stroke-linejoin="miter"/>
<path d="M476.35 86.65L479.45 86.65L477.9 83.95Z" fill="#00d000" stroke="#00d000" stroke-width="0.45" stroke-linejoin="miter"/>
<path d="M483.95 86.65L487.05 86.65L485.5 83.95Z" fill="#00d000" stroke="#00d000" stroke-width="0.45" stroke-linejoin="miter"/>
<path d="M491.95 86.64L495.05 86.64L493.5 83.94Z" fill="#00d000" stroke="#00d000" stroke-width="0.45" stroke-linejoin="miter"/>
<path d="M500.45 86.63L503.55 86.63L502 83.93Z" fill="#00d000" stroke="#00d000" stroke-width="0.45" stroke-linejoin="miter"/>
<path d="M510.05 86.62L513.15 86.62L511.6 83.92Z" fill="#00d000" stroke="#00d000" stroke-width="0.45" stroke-linejoin="miter"/>
<path d="M519.65 86.61L522.75 86.61L521.2 83.91Z" fill="#00d000" stroke="#00d000" stroke-width="0.45" stroke-linejoin="miter"/>
<path d="M529.45 86.6L532.55 86.6L531 83.9Z" fill="#00d000" stroke="#00d000" stroke-width="0.45" stroke-linejoin="miter"/>
<path d="M537.45 87.1L540.55 87.1L539 84.4Z" fill="#00d000" stroke="#00d000" stroke-width="0.45" stroke-linejoin="miter"/>
<polyline points="391.7,109 424.3,109 425.1,104.4 427,94.7 428.3,87 430,85 434.8,83.7 440.6,82.8 450.3,80.2 459.1,78.2 468.2,75.1 477.9,73.4 483.9,71 493.5,69.1 502,67.9 511.6,66.2 521.2,64.3 524.8,63.1 530,63.5 534.5,65.5 539.3,76.3 542,85 544.5,100 544.5,109" fill="none" stroke="#0000ff" stroke-width="0.7" stroke-linejoin="round" stroke-opacity="0.75"/>
<path d="M394.45 110.1L397.55 110.1L396 107.4Z" fill="#0000ff" stroke="#0000ff" stroke-width="0.45" stroke-linejoin="miter"/>
<path d="M403.45 110.1L406.55 110.1L405 107.4Z" fill="#0000ff" stroke="#0000ff" stroke-width="0.45" stroke-linejoin="miter"/>
<path d="M412.45 110.1L415.55 110.1L414 107.4Z" fill="#0000ff" stroke="#0000ff" stroke-width="0.45" stroke-linejoin="miter"/>
<path d="M423.55 105.5L426.65 105.5L425.1 102.8Z" fill="#0000ff" stroke="#0000ff" stroke-width="0.45" stroke-linejoin="miter"/>
<path d="M425.45 95.8L428.55 95.8L427 93.1Z" fill="#0000ff" stroke="#0000ff" stroke-width="0.45" stroke-linejoin="miter"/>
<path d="M426.75 88.1L429.85 88.1L428.3 85.4Z" fill="#0000ff" stroke="#0000ff" stroke-width="0.45" stroke-linejoin="miter"/>
<path d="M433.25 84.8L436.35 84.8L434.8 82.1Z" fill="#0000ff" stroke="#0000ff" stroke-width="0.45" stroke-linejoin="miter"/>
<path d="M439.05 83.9L442.15 83.9L440.6 81.2Z" fill="#0000ff" stroke="#0000ff" stroke-width="0.45" stroke-linejoin="miter"/>
<path d="M448.75 81.3L451.85 81.3L450.3 78.6Z" fill="#0000ff" stroke="#0000ff" stroke-width="0.45" stroke-linejoin="miter"/>
<path d="M457.55 79.3L460.65 79.3L459.1 76.6Z" fill="#0000ff" stroke="#0000ff" stroke-width="0.45" stroke-linejoin="miter"/>
<path d="M466.65 76.2L469.75 76.2L468.2 73.5Z" fill="#0000ff" stroke="#0000ff" stroke-width="0.45" stroke-linejoin="miter"/>
<path d="M476.35 74.5L479.45 74.5L477.9 71.8Z" fill="#0000ff" stroke="#0000ff" stroke-width="0.45" stroke-linejoin="miter"/>
<path d="M482.35 72.1L485.45 72.1L483.9 69.4Z" fill="#0000ff" stroke="#0000ff" stroke-width="0.45" stroke-linejoin="miter"/>
<path d="M491.95 70.2L495.05 70.2L493.5 67.5Z" fill="#0000ff" stroke="#0000ff" stroke-width="0.45" stroke-linejoin="miter"/>
<path d="M500.45 69L503.55 69L502 66.3Z" fill="#0000ff" stroke="#0000ff" stroke-width="0.45" stroke-linejoin="miter"/>
<path d="M510.05 67.3L513.15 67.3L511.6 64.6Z" fill="#0000ff" stroke="#0000ff" stroke-width="0.45" stroke-linejoin="miter"/>
<path d="M519.65 65.4L522.75 65.4L521.2 62.7Z" fill="#0000ff" stroke="#0000ff" stroke-width="0.45" stroke-linejoin="miter"/>
<path d="M524.45 64.3L527.55 64.3L526 61.6Z" fill="#0000ff" stroke="#0000ff" stroke-width="0.45" stroke-linejoin="miter"/>
<path d="M537.75 77.4L540.85 77.4L539.3 74.7Z" fill="#0000ff" stroke="#0000ff" stroke-width="0.45" stroke-linejoin="miter"/>
<path d="M540.45 86.1L543.55 86.1L542 83.4Z" fill="#0000ff" stroke="#0000ff" stroke-width="0.45" stroke-linejoin="miter"/>
<polyline points="391.7,109 448.5,109 449.9,103.2 450.9,81.6 452,77.5 459.5,77 535,76.3 539,79 542,85 544.5,92 544.5,109" fill="none" stroke="#ff0000" stroke-width="0.7" stroke-linejoin="round" stroke-opacity="0.6"/>
<path d="M395.95 110.1L399.05 110.1L397.5 107.4Z" fill="#ff0000" stroke="#ff0000" stroke-width="0.45" stroke-linejoin="miter"/>
<path d="M404.95 110.1L408.05 110.1L406.5 107.4Z" fill="#ff0000" stroke="#ff0000" stroke-width="0.45" stroke-linejoin="miter"/>
<path d="M413.95 110.1L417.05 110.1L415.5 107.4Z" fill="#ff0000" stroke="#ff0000" stroke-width="0.45" stroke-linejoin="miter"/>
<path d="M423.15 110.1L426.25 110.1L424.7 107.4Z" fill="#ff0000" stroke="#ff0000" stroke-width="0.45" stroke-linejoin="miter"/>
<path d="M432.15 110.1L435.25 110.1L433.7 107.4Z" fill="#ff0000" stroke="#ff0000" stroke-width="0.45" stroke-linejoin="miter"/>
<path d="M441.05 110.1L444.15 110.1L442.6 107.4Z" fill="#ff0000" stroke="#ff0000" stroke-width="0.45" stroke-linejoin="miter"/>
<path d="M448.35 104.3L451.45 104.3L449.9 101.6Z" fill="#ff0000" stroke="#ff0000" stroke-width="0.45" stroke-linejoin="miter"/>
<path d="M450.45 78.6L453.55 78.6L452 75.9Z" fill="#ff0000" stroke="#ff0000" stroke-width="0.45" stroke-linejoin="miter"/>
<path d="M457.95 78.1L461.05 78.1L459.5 75.4Z" fill="#ff0000" stroke="#ff0000" stroke-width="0.45" stroke-linejoin="miter"/>
<path d="M466.65 78.02L469.75 78.02L468.2 75.32Z" fill="#ff0000" stroke="#ff0000" stroke-width="0.45" stroke-linejoin="miter"/>
<path d="M476.35 77.93L479.45 77.93L477.9 75.23Z" fill="#ff0000" stroke="#ff0000" stroke-width="0.45" stroke-linejoin="miter"/>
<path d="M482.35 77.87L485.45 77.87L483.9 75.17Z" fill="#ff0000" stroke="#ff0000" stroke-width="0.45" stroke-linejoin="miter"/>
<path d="M491.95 77.78L495.05 77.78L493.5 75.08Z" fill="#ff0000" stroke="#ff0000" stroke-width="0.45" stroke-linejoin="miter"/>
<path d="M500.45 77.71L503.55 77.71L502 75.01Z" fill="#ff0000" stroke="#ff0000" stroke-width="0.45" stroke-linejoin="miter"/>
<path d="M510.05 77.62L513.15 77.62L511.6 74.92Z" fill="#ff0000" stroke="#ff0000" stroke-width="0.45" stroke-linejoin="miter"/>
<path d="M519.65 77.53L522.75 77.53L521.2 74.83Z" fill="#ff0000" stroke="#ff0000" stroke-width="0.45" stroke-linejoin="miter"/>
<path d="M529.45 77.44L532.55 77.44L531 74.74Z" fill="#ff0000" stroke="#ff0000" stroke-width="0.45" stroke-linejoin="miter"/>
<path d="M537.45 80.1L540.55 80.1L539 77.4Z" fill="#ff0000" stroke="#ff0000" stroke-width="0.45" stroke-linejoin="miter"/>
<path d="M542.75 96.1L545.85 96.1L544.3 93.4Z" fill="#ff0000" stroke="#ff0000" stroke-width="0.45" stroke-linejoin="miter"/>
<path d="M542.75 102.1L545.85 102.1L544.3 99.4Z" fill="#ff0000" stroke="#ff0000" stroke-width="0.45" stroke-linejoin="miter"/>
<path d="M542.75 107.6L545.85 107.6L544.3 104.9Z" fill="#ff0000" stroke="#ff0000" stroke-width="0.45" stroke-linejoin="miter"/>
<polyline points="391.7,109 436.8,109" fill="none" stroke="#00d000" stroke-width="0.8" stroke-linejoin="round" stroke-dasharray="1.9 2.6" stroke-opacity="0.8"/>
<polyline points="436.8,109 437.3,100 438.5,80 439.5,65 440.2,61.8 441.2,64.5 442.7,67.2" fill="none" stroke="#00d000" stroke-width="0.9" stroke-linejoin="round" stroke-dasharray="1.9 2.6" stroke-opacity="0.95"/>
<polyline points="437.4,109 437.9,100 439,80 439.8,66 441,66.5 442.7,67.2" fill="none" stroke="#0000ff" stroke-width="0.8" stroke-linejoin="round" stroke-dasharray="1.9 2.6" stroke-opacity="0.4"/>
<polyline points="442.7,67.2 530,67.2 534,69 538,75 541,82 544.5,100" fill="none" stroke="#2a80c0" stroke-width="1.0" stroke-linejoin="round" stroke-dasharray="1.9 2.6" stroke-opacity="0.95"/>
<polyline points="391.7,109 452.5,109 453.5,95 454,82 455,78 457,77.5 530,77.5 535,79 539,83 542.5,90 544.5,100" fill="none" stroke="#ff0000" stroke-width="0.9" stroke-linejoin="round" stroke-dasharray="1.9 2.6" stroke-opacity="0.85"/>
</g>
<path d="M488.9 10.4H507.3" stroke="#00d000" stroke-width="0.75" stroke-opacity="0.6"/>
<path d="M488.9 15.47H507.3" stroke="#0000ff" stroke-width="0.75" stroke-opacity="0.6"/>
<path d="M488.9 20.54H507.3" stroke="#ff0000" stroke-width="0.75" stroke-opacity="0.6"/>
<path d="M488.9 25.61H507.3" stroke="#00d000" stroke-width="0.75" stroke-opacity="0.75"/>
<path d="M496.55 26.71L499.65 26.71L498.1 24.01Z" fill="#00d000" stroke="#00d000" stroke-width="0.45" stroke-linejoin="miter"/>
<path d="M488.9 30.68H507.3" stroke="#0000ff" stroke-width="0.75" stroke-opacity="0.75"/>
<path d="M496.55 31.78L499.65 31.78L498.1 29.08Z" fill="#0000ff" stroke="#0000ff" stroke-width="0.45" stroke-linejoin="miter"/>
<path d="M488.9 35.75H507.3" stroke="#ff0000" stroke-width="0.75" stroke-opacity="0.75"/>
<path d="M496.55 36.85L499.65 36.85L498.1 34.15Z" fill="#ff0000" stroke="#ff0000" stroke-width="0.45" stroke-linejoin="miter"/>
<path d="M488.8 40.82H508.3" stroke="#00d000" stroke-width="1.3" stroke-opacity="0.5" stroke-dasharray="1.5 3.0"/>
<path d="M488.8 45.89H508.3" stroke="#0000ff" stroke-width="1.3" stroke-opacity="0.5" stroke-dasharray="1.5 3.0"/>
<path d="M488.8 50.96H508.3" stroke="#ff0000" stroke-width="1.3" stroke-opacity="0.5" stroke-dasharray="1.5 3.0"/>
<g font-family="Liberation Serif, serif" font-weight="bold" font-size="5.2" fill="#1e1e1e"><text x="511.05" y="12.1" textLength="14.38" lengthAdjust="spacingAndGlyphs">2T-8%-T</text><text x="511.05" y="17.17" textLength="14.38" lengthAdjust="spacingAndGlyphs">2T-7%-T</text><text x="511.06" y="22.24" textLength="15.19" lengthAdjust="spacingAndGlyphs">2T-11%-T</text><text x="511.05" y="27.31" textLength="16.21" lengthAdjust="spacingAndGlyphs">2T-8%-Tv</text><text x="511.05" y="32.38" textLength="16.21" lengthAdjust="spacingAndGlyphs">2T-7%-Tv</text><text x="511.05" y="37.45" textLength="17.62" lengthAdjust="spacingAndGlyphs">2T-11%-Tv</text><text x="510.92" y="42.52" textLength="13.82" lengthAdjust="spacingAndGlyphs">1T-8%-T</text><text x="510.92" y="47.59" textLength="13.82" lengthAdjust="spacingAndGlyphs">1T-7%-T</text><text x="510.94" y="52.66" textLength="14.31" lengthAdjust="spacingAndGlyphs">1T-11%-T</text></g>
</g>
<g>
<path d="M22.6 144H175.4V247.8" fill="none" stroke="#5a5a5a" stroke-width="0.8"/>
<path d="M22.6 143.8V247.8H175.4" fill="none" stroke="#333" stroke-width="0.8"/>
<path d="M22.6 245.72H23.5M22.6 243.64H23.5M22.6 241.56H23.5M22.6 239.48H23.5M22.6 235.32H23.5M22.6 233.24H23.5M22.6 231.16H23.5M22.6 229.08H23.5M22.6 224.92H23.5M22.6 222.84H23.5M22.6 220.76H23.5M22.6 218.68H23.5M22.6 214.52H23.5M22.6 212.44H23.5M22.6 210.36H23.5M22.6 208.28H23.5M22.6 204.12H23.5M22.6 202.04H23.5M22.6 199.96H23.5M22.6 197.88H23.5M22.6 193.72H23.5M22.6 191.64H23.5M22.6 189.56H23.5M22.6 187.48H23.5M22.6 183.32H23.5M22.6 181.24H23.5M22.6 179.16H23.5M22.6 177.08H23.5M22.6 172.92H23.5M22.6 170.84H23.5M22.6 168.76H23.5M22.6 166.68H23.5M22.6 162.52H23.5M22.6 160.44H23.5M22.6 158.36H23.5M22.6 156.28H23.5M22.6 152.12H23.5M22.6 150.04H23.5M22.6 147.96H23.5M22.6 145.88H23.5" stroke="#333" stroke-width="0.5" fill="none"/>
<path d="M22.5 247.8V245.6M53.5 247.8V245.6M83.5 247.8V245.6M114.5 247.8V245.6M144.5 247.8V245.6M175.5 247.8V245.6M22.6 247.5H24.8M22.6 237.5H24.8M22.6 227.5H24.8M22.6 216.5H24.8M22.6 206.5H24.8M22.6 195.5H24.8M22.6 185.5H24.8M22.6 175.5H24.8M22.6 164.5H24.8M22.6 154.5H24.8M22.6 143.5H24.8" stroke="#333" stroke-width="0.8" fill="none"/>
<g font-family="Liberation Serif, serif" font-size="5.2" fill="#333" stroke="#333" stroke-width="0.06"><text x="22.6" y="253.8" text-anchor="middle">-250</text><text x="53.16" y="253.8" text-anchor="middle">-200</text><text x="83.72" y="253.8" text-anchor="middle">-150</text><text x="114.28" y="253.8" text-anchor="middle">-100</text><text x="144.84" y="253.8" text-anchor="middle">-50</text><text x="175.4" y="253.8" text-anchor="middle">0</text><text x="21.4" y="239.7" text-anchor="end">5.0</text><text x="21.4" y="229.3" text-anchor="end">10.0</text><text x="21.4" y="218.9" text-anchor="end">15.0</text><text x="21.4" y="208.5" text-anchor="end">20.0</text><text x="21.4" y="198.1" text-anchor="end">25.0</text><text x="21.4" y="187.7" text-anchor="end">30.0</text><text x="21.4" y="177.3" text-anchor="end">35.0</text><text x="21.4" y="166.9" text-anchor="end">40.0</text><text x="21.4" y="156.5" text-anchor="end">45.0</text><text x="21.4" y="146.1" text-anchor="end">50.0</text></g>
<text x="99" y="257.5" text-anchor="middle" font-family="Liberation Serif, serif" font-weight="bold" font-size="5.8" fill="#222">x(mm)</text>
<text transform="translate(8.4 195.6) rotate(-90)" x="0" y="0" text-anchor="middle" font-family="Liberation Serif, serif" font-weight="bold" font-size="5.6" fill="#222" textLength="51.2" lengthAdjust="spacingAndGlyphs">Temperature(10<tspan font-size="3.6" dy="-2">3</tspan><tspan dy="2">K)</tspan></text>
<g clip-path="url(#c3)">
<polyline points="22.6,247.8 40.1,247.8 40.5,230 41.4,202 42.2,175 42.9,155 43.3,147 43.6,145.2 44,147 44.6,155 45.7,170 46.8,183 47.9,189.5 50,194.9 53.3,198.1 59.7,200.9 70,201.3 158,201.4 161,202.3 163.7,205.8 166.6,212.3 169.5,220 172.5,228 175,236 175.4,240" fill="none" stroke="#00d000" stroke-width="0.85" stroke-linejoin="round" stroke-opacity="0.8"/>
<polyline points="22.6,247.8 47.3,247.8 47.5,230 47.9,202 48.7,175 49.4,155 49.8,148 50,146.3 50.4,148 51.1,155 52.2,167.9 53.3,178.7 55,187.3 57.6,193.8 60.8,197.7 66,201.3 70,202.6 100,203.8 158,205 161,205.6 163.5,207.5 166,211.5 169,218 172,226 175.4,240" fill="none" stroke="#0000ff" stroke-width="0.85" stroke-linejoin="round" stroke-opacity="0.6"/>
<polyline points="22.6,247.8 86.7,247.8 87.2,220 87.9,185 88.7,165.5 89.4,185 90,210 90.6,222.7 93,222.5 165,222.8 170,224 173.5,228 175.4,240" fill="none" stroke="#ff0000" stroke-width="0.75" stroke-linejoin="round" stroke-opacity="0.55"/>
<polyline points="22.6,247.8 39.5,247.8 42.9,240.3 45.5,234.5 47.7,232.8 170,232.8 172.4,232 174.5,232 175.4,240 175.4,247.8" fill="none" stroke="#00d000" stroke-width="0.7" stroke-linejoin="round" stroke-opacity="0.7"/>
<path d="M27.45 248.9L30.55 248.9L29 246.2Z" fill="#00d000" stroke="#00d000" stroke-width="0.45" stroke-linejoin="miter"/>
<path d="M41.35 241.4L44.45 241.4L42.9 238.7Z" fill="#00d000" stroke="#00d000" stroke-width="0.45" stroke-linejoin="miter"/>
<path d="M46.15 233.9L49.25 233.9L47.7 231.2Z" fill="#00d000" stroke="#00d000" stroke-width="0.45" stroke-linejoin="miter"/>
<path d="M54.95 233.9L58.05 233.9L56.5 231.2Z" fill="#00d000" stroke="#00d000" stroke-width="0.45" stroke-linejoin="miter"/>
<path d="M61.45 233.9L64.55 233.9L63 231.2Z" fill="#00d000" stroke="#00d000" stroke-width="0.45" stroke-linejoin="miter"/>
<path d="M69.35 233.9L72.45 233.9L70.9 231.2Z" fill="#00d000" stroke="#00d000" stroke-width="0.45" stroke-linejoin="miter"/>
<path d="M78.25 233.9L81.35 233.9L79.8 231.2Z" fill="#00d000" stroke="#00d000" stroke-width="0.45" stroke-linejoin="miter"/>
<path d="M87.15 233.9L90.25 233.9L88.7 231.2Z" fill="#00d000" stroke="#00d000" stroke-width="0.45" stroke-linejoin="miter"/>
<path d="M96.95 233.9L100.05 233.9L98.5 231.2Z" fill="#00d000" stroke="#00d000" stroke-width="0.45" stroke-linejoin="miter"/>
<path d="M106.05 233.9L109.15 233.9L107.6 231.2Z" fill="#00d000" stroke="#00d000" stroke-width="0.45" stroke-linejoin="miter"/>
<path d="M113.55 233.9L116.65 233.9L115.1 231.2Z" fill="#00d000" stroke="#00d000" stroke-width="0.45" stroke-linejoin="miter"/>
<path d="M122.25 233.9L125.35 233.9L123.8 231.2Z" fill="#00d000" stroke="#00d000" stroke-width="0.45" stroke-linejoin="miter"/>
<path d="M131.95 233.9L135.05 233.9L133.5 231.2Z" fill="#00d000" stroke="#00d000" stroke-width="0.45" stroke-linejoin="miter"/>
<path d="M140.55 233.9L143.65 233.9L142.1 231.2Z" fill="#00d000" stroke="#00d000" stroke-width="0.45" stroke-linejoin="miter"/>
<path d="M150.35 233.9L153.45 233.9L151.9 231.2Z" fill="#00d000" stroke="#00d000" stroke-width="0.45" stroke-linejoin="miter"/>
<path d="M155.05 233.9L158.15 233.9L156.6 231.2Z" fill="#00d000" stroke="#00d000" stroke-width="0.45" stroke-linejoin="miter"/>
<path d="M163.25 233.9L166.35 233.9L164.8 231.2Z" fill="#00d000" stroke="#00d000" stroke-width="0.45" stroke-linejoin="miter"/>
<path d="M170.85 233.1L173.95 233.1L172.4 230.4Z" fill="#00d000" stroke="#00d000" stroke-width="0.45" stroke-linejoin="miter"/>
<polyline points="22.6,247.8 46.7,247.8 48.1,243.5 50.5,238 53.5,233.1 57.1,231.6 63,229.6 70.9,227.6 80.8,225.6 89.6,223.7 98.5,222.3 107.6,220.3 115.1,218.1 123.8,216.4 133.5,214.4 142.1,212.3 151.9,210.5 156.6,210.1 164.8,211.6 169.1,219.2 172.4,225.7 175.4,240 175.4,247.8" fill="none" stroke="#0000ff" stroke-width="0.7" stroke-linejoin="round" stroke-opacity="0.75"/>
<path d="M26.95 248.9L30.05 248.9L28.5 246.2Z" fill="#0000ff" stroke="#0000ff" stroke-width="0.45" stroke-linejoin="miter"/>
<path d="M46.55 244.6L49.65 244.6L48.1 241.9Z" fill="#0000ff" stroke="#0000ff" stroke-width="0.45" stroke-linejoin="miter"/>
<path d="M48.95 239.1L52.05 239.1L50.5 236.4Z" fill="#0000ff" stroke="#0000ff" stroke-width="0.45" stroke-linejoin="miter"/>
<path d="M51.95 234.2L55.05 234.2L53.5 231.5Z" fill="#0000ff" stroke="#0000ff" stroke-width="0.45" stroke-linejoin="miter"/>
<path d="M61.45 230.7L64.55 230.7L63 228Z" fill="#0000ff" stroke="#0000ff" stroke-width="0.45" stroke-linejoin="miter"/>
<path d="M69.35 228.7L72.45 228.7L70.9 226Z" fill="#0000ff" stroke="#0000ff" stroke-width="0.45" stroke-linejoin="miter"/>
<path d="M79.25 226.7L82.35 226.7L80.8 224Z" fill="#0000ff" stroke="#0000ff" stroke-width="0.45" stroke-linejoin="miter"/>
<path d="M88.05 224.8L91.15 224.8L89.6 222.1Z" fill="#0000ff" stroke="#0000ff" stroke-width="0.45" stroke-linejoin="miter"/>
<path d="M96.95 223.4L100.05 223.4L98.5 220.7Z" fill="#0000ff" stroke="#0000ff" stroke-width="0.45" stroke-linejoin="miter"/>
<path d="M106.05 221.4L109.15 221.4L107.6 218.7Z" fill="#0000ff" stroke="#0000ff" stroke-width="0.45" stroke-linejoin="miter"/>
<path d="M113.55 219.2L116.65 219.2L115.1 216.5Z" fill="#0000ff" stroke="#0000ff" stroke-width="0.45" stroke-linejoin="miter"/>
<path d="M122.25 217.5L125.35 217.5L123.8 214.8Z" fill="#0000ff" stroke="#0000ff" stroke-width="0.45" stroke-linejoin="miter"/>
<path d="M131.95 215.5L135.05 215.5L133.5 212.8Z" fill="#0000ff" stroke="#0000ff" stroke-width="0.45" stroke-linejoin="miter"/>
<path d="M140.55 213.4L143.65 213.4L142.1 210.7Z" fill="#0000ff" stroke="#0000ff" stroke-width="0.45" stroke-linejoin="miter"/>
<path d="M150.35 211.6L153.45 211.6L151.9 208.9Z" fill="#0000ff" stroke="#0000ff" stroke-width="0.45" stroke-linejoin="miter"/>
<path d="M155.05 211.2L158.15 211.2L156.6 208.5Z" fill="#0000ff" stroke="#0000ff" stroke-width="0.45" stroke-linejoin="miter"/>
<path d="M163.25 212.7L166.35 212.7L164.8 210Z" fill="#0000ff" stroke="#0000ff" stroke-width="0.45" stroke-linejoin="miter"/>
<path d="M167.55 220.3L170.65 220.3L169.1 217.6Z" fill="#0000ff" stroke="#0000ff" stroke-width="0.45" stroke-linejoin="miter"/>
<path d="M170.85 226.8L173.95 226.8L172.4 224.1Z" fill="#0000ff" stroke="#0000ff" stroke-width="0.45" stroke-linejoin="miter"/>
<polyline points="22.6,247.8 84.7,247.8 87.7,240.5 89.2,231.6 90,223.7 92,222.5 164.8,222.8 169,224 172.5,227 175.4,233 175.4,247.8" fill="none" stroke="#ff0000" stroke-width="0.7" stroke-linejoin="round" stroke-opacity="0.6"/>
<path d="M27.95 248.9L31.05 248.9L29.5 246.2Z" fill="#ff0000" stroke="#ff0000" stroke-width="0.45" stroke-linejoin="miter"/>
<path d="M36.75 248.9L39.85 248.9L38.3 246.2Z" fill="#ff0000" stroke="#ff0000" stroke-width="0.45" stroke-linejoin="miter"/>
<path d="M45.45 248.9L48.55 248.9L47 246.2Z" fill="#ff0000" stroke="#ff0000" stroke-width="0.45" stroke-linejoin="miter"/>
<path d="M54.85 248.9L57.95 248.9L56.4 246.2Z" fill="#ff0000" stroke="#ff0000" stroke-width="0.45" stroke-linejoin="miter"/>
<path d="M65.35 248.9L68.45 248.9L66.9 246.2Z" fill="#ff0000" stroke="#ff0000" stroke-width="0.45" stroke-linejoin="miter"/>
<path d="M74.25 248.9L77.35 248.9L75.8 246.2Z" fill="#ff0000" stroke="#ff0000" stroke-width="0.45" stroke-linejoin="miter"/>
<path d="M83.15 248.9L86.25 248.9L84.7 246.2Z" fill="#ff0000" stroke="#ff0000" stroke-width="0.45" stroke-linejoin="miter"/>
<path d="M86.15 241.6L89.25 241.6L87.7 238.9Z" fill="#ff0000" stroke="#ff0000" stroke-width="0.45" stroke-linejoin="miter"/>
<path d="M87.65 232.7L90.75 232.7L89.2 230Z" fill="#ff0000" stroke="#ff0000" stroke-width="0.45" stroke-linejoin="miter"/>
<path d="M88.45 224.8L91.55 224.8L90 222.1Z" fill="#ff0000" stroke="#ff0000" stroke-width="0.45" stroke-linejoin="miter"/>
<path d="M96.95 223.63L100.05 223.63L98.5 220.93Z" fill="#ff0000" stroke="#ff0000" stroke-width="0.45" stroke-linejoin="miter"/>
<path d="M106.85 223.67L109.95 223.67L108.4 220.97Z" fill="#ff0000" stroke="#ff0000" stroke-width="0.45" stroke-linejoin="miter"/>
<path d="M113.55 223.7L116.65 223.7L115.1 221Z" fill="#ff0000" stroke="#ff0000" stroke-width="0.45" stroke-linejoin="miter"/>
<path d="M122.25 223.73L125.35 223.73L123.8 221.03Z" fill="#ff0000" stroke="#ff0000" stroke-width="0.45" stroke-linejoin="miter"/>
<path d="M131.95 223.77L135.05 223.77L133.5 221.07Z" fill="#ff0000" stroke="#ff0000" stroke-width="0.45" stroke-linejoin="miter"/>
<path d="M140.55 223.81L143.65 223.81L142.1 221.11Z" fill="#ff0000" stroke="#ff0000" stroke-width="0.45" stroke-linejoin="miter"/>
<path d="M150.35 223.85L153.45 223.85L151.9 221.15Z" fill="#ff0000" stroke="#ff0000" stroke-width="0.45" stroke-linejoin="miter"/>
<path d="M155.05 223.87L158.15 223.87L156.6 221.17Z" fill="#ff0000" stroke="#ff0000" stroke-width="0.45" stroke-linejoin="miter"/>
<path d="M163.25 223.9L166.35 223.9L164.8 221.2Z" fill="#ff0000" stroke="#ff0000" stroke-width="0.45" stroke-linejoin="miter"/>
<path d="M173.65 234.3L176.75 234.3L175.2 231.6Z" fill="#ff0000" stroke="#ff0000" stroke-width="0.45" stroke-linejoin="miter"/>
<path d="M173.65 241.9L176.75 241.9L175.2 239.2Z" fill="#ff0000" stroke="#ff0000" stroke-width="0.45" stroke-linejoin="miter"/>
<polyline points="22.6,247.8 60.3,247.8" fill="none" stroke="#00d000" stroke-width="0.8" stroke-linejoin="round" stroke-dasharray="2.2 2.2" stroke-opacity="0.8"/>
<polyline points="60.3,247.8 60.8,230 61.4,215 62,205 62.9,201.6 64,203 66.9,208.4" fill="none" stroke="#00d000" stroke-width="0.9" stroke-linejoin="round" stroke-dasharray="2.2 2.2" stroke-opacity="0.95"/>
<polyline points="60.8,247.8 61.3,230 61.9,210 62.5,203.5 64,205 66.9,208.4" fill="none" stroke="#0000ff" stroke-width="0.8" stroke-linejoin="round" stroke-dasharray="2.2 2.2" stroke-opacity="0.4"/>
<polyline points="66.9,208.4 162.7,208.4 166,211 169.5,218 173,228 175.4,240" fill="none" stroke="#2040e8" stroke-width="1.0" stroke-linejoin="round" stroke-dasharray="2.2 2.2" stroke-opacity="0.9"/>
<polyline points="22.6,247.8 89.6,247.8 90.3,235 90.8,225 91.5,222.7 94,222.8 165,223 170,225 173.5,229 175.4,240" fill="none" stroke="#ff0000" stroke-width="0.9" stroke-linejoin="round" stroke-dasharray="2.2 2.2" stroke-opacity="0.85"/>
</g>
<path d="M119.8 149H138.2" stroke="#00d000" stroke-width="0.75" stroke-opacity="0.6"/>
<path d="M119.8 154.02H138.2" stroke="#0000ff" stroke-width="0.75" stroke-opacity="0.6"/>
<path d="M119.8 159.04H138.2" stroke="#ff0000" stroke-width="0.75" stroke-opacity="0.6"/>
<path d="M119.8 164.06H138.2" stroke="#00d000" stroke-width="0.75" stroke-opacity="0.75"/>
<path d="M127.45 165.16L130.55 165.16L129 162.46Z" fill="#00d000" stroke="#00d000" stroke-width="0.45" stroke-linejoin="miter"/>
<path d="M119.8 169.08H138.2" stroke="#0000ff" stroke-width="0.75" stroke-opacity="0.75"/>
<path d="M127.45 170.18L130.55 170.18L129 167.48Z" fill="#0000ff" stroke="#0000ff" stroke-width="0.45" stroke-linejoin="miter"/>
<path d="M119.8 174.1H138.2" stroke="#ff0000" stroke-width="0.75" stroke-opacity="0.75"/>
<path d="M127.45 175.2L130.55 175.2L129 172.5Z" fill="#ff0000" stroke="#ff0000" stroke-width="0.45" stroke-linejoin="miter"/>
<path d="M119.5 179.12H139.4" stroke="#00d000" stroke-width="0.75" stroke-opacity="0.9" stroke-dasharray="2.3 2.2"/>
<path d="M119.5 184.14H139.4" stroke="#0000ff" stroke-width="0.75" stroke-opacity="0.9" stroke-dasharray="2.3 2.2"/>
<path d="M119.5 189.16H139.4" stroke="#ff0000" stroke-width="0.75" stroke-opacity="0.9" stroke-dasharray="2.3 2.2"/>
<g font-family="Liberation Serif, serif" font-weight="bold" font-size="5.2" fill="#3a3a3a"><text x="141.95" y="150.7" textLength="14.38" lengthAdjust="spacingAndGlyphs">2T-8%-T</text><text x="141.95" y="155.72" textLength="14.38" lengthAdjust="spacingAndGlyphs">2T-7%-T</text><text x="141.96" y="160.74" textLength="15.19" lengthAdjust="spacingAndGlyphs">2T-11%-T</text><text x="141.95" y="165.76" textLength="16.21" lengthAdjust="spacingAndGlyphs">2T-8%-Tv</text><text x="141.95" y="170.78" textLength="16.21" lengthAdjust="spacingAndGlyphs">2T-7%-Tv</text><text x="141.95" y="175.8" textLength="17.62" lengthAdjust="spacingAndGlyphs">2T-11%-Tv</text><text x="141.82" y="180.82" textLength="13.82" lengthAdjust="spacingAndGlyphs">1T-8%-T</text><text x="141.82" y="185.84" textLength="13.82" lengthAdjust="spacingAndGlyphs">1T-7%-T</text><text x="141.84" y="190.86" textLength="14.31" lengthAdjust="spacingAndGlyphs">1T-11%-T</text></g>
</g>
<g>
<path d="M207.5 144H360.3V247.8" fill="none" stroke="#5a5a5a" stroke-width="0.8"/>
<path d="M207.5 143.8V247.8H360.3" fill="none" stroke="#333" stroke-width="0.8"/>
<path d="M207.5 245.72H208.4M207.5 243.64H208.4M207.5 241.56H208.4M207.5 239.48H208.4M207.5 235.32H208.4M207.5 233.24H208.4M207.5 231.16H208.4M207.5 229.08H208.4M207.5 224.92H208.4M207.5 222.84H208.4M207.5 220.76H208.4M207.5 218.68H208.4M207.5 214.52H208.4M207.5 212.44H208.4M207.5 210.36H208.4M207.5 208.28H208.4M207.5 204.12H208.4M207.5 202.04H208.4M207.5 199.96H208.4M207.5 197.88H208.4M207.5 193.72H208.4M207.5 191.64H208.4M207.5 189.56H208.4M207.5 187.48H208.4M207.5 183.32H208.4M207.5 181.24H208.4M207.5 179.16H208.4M207.5 177.08H208.4M207.5 172.92H208.4M207.5 170.84H208.4M207.5 168.76H208.4M207.5 166.68H208.4M207.5 162.52H208.4M207.5 160.44H208.4M207.5 158.36H208.4M207.5 156.28H208.4M207.5 152.12H208.4M207.5 150.04H208.4M207.5 147.96H208.4M207.5 145.88H208.4" stroke="#333" stroke-width="0.5" fill="none"/>
<path d="M207.5 247.8V245.6M238.5 247.8V245.6M268.5 247.8V245.6M299.5 247.8V245.6M329.5 247.8V245.6M360.5 247.8V245.6M207.5 247.5H209.7M207.5 237.5H209.7M207.5 227.5H209.7M207.5 216.5H209.7M207.5 206.5H209.7M207.5 195.5H209.7M207.5 185.5H209.7M207.5 175.5H209.7M207.5 164.5H209.7M207.5 154.5H209.7M207.5 143.5H209.7" stroke="#333" stroke-width="0.8" fill="none"/>
<g font-family="Liberation Serif, serif" font-size="5.2" fill="#333" stroke="#333" stroke-width="0.06"><text x="207.5" y="253.8" text-anchor="middle">-250</text><text x="238.06" y="253.8" text-anchor="middle">-200</text><text x="268.62" y="253.8" text-anchor="middle">-150</text><text x="299.18" y="253.8" text-anchor="middle">-100</text><text x="329.74" y="253.8" text-anchor="middle">-50</text><text x="360.3" y="253.8" text-anchor="middle">0</text><text x="206.3" y="239.7" text-anchor="end">5.0</text><text x="206.3" y="229.3" text-anchor="end">10.0</text><text x="206.3" y="218.9" text-anchor="end">15.0</text><text x="206.3" y="208.5" text-anchor="end">20.0</text><text x="206.3" y="198.1" text-anchor="end">25.0</text><text x="206.3" y="187.7" text-anchor="end">30.0</text><text x="206.3" y="177.3" text-anchor="end">35.0</text><text x="206.3" y="166.9" text-anchor="end">40.0</text><text x="206.3" y="156.5" text-anchor="end">45.0</text><text x="206.3" y="146.1" text-anchor="end">50.0</text></g>
<text x="283.9" y="257.5" text-anchor="middle" font-family="Liberation Serif, serif" font-weight="bold" font-size="5.8" fill="#222">x(mm)</text>
<text transform="translate(193.3 195.6) rotate(-90)" x="0" y="0" text-anchor="middle" font-family="Liberation Serif, serif" font-weight="bold" font-size="5.6" fill="#222" textLength="51.2" lengthAdjust="spacingAndGlyphs">Temperature(10<tspan font-size="3.6" dy="-2">3</tspan><tspan dy="2">K)</tspan></text>
<g clip-path="url(#c4)">
<polyline points="207.5,247.8 222.9,247.8 223.4,230 224.5,205 225.1,177.4 225.8,160 226.3,151 226.6,148.9 227,151 227.7,162.3 228.8,177.4 229.9,188.2 231.4,193.6 234.2,196.8 239.6,199 248,200.6 260,201.1 338,201.1 342,202.3 344.9,204.4 349.2,209.4 351.3,213.7 354,221 357,230 359.3,237 360.3,240" fill="none" stroke="#00d000" stroke-width="0.85" stroke-linejoin="round" stroke-opacity="0.8"/>
<polyline points="207.5,247.8 229.8,247.8 230.3,225 231,205 232,166.6 233,152 233.5,148.9 234,151 234.8,162.3 235.7,173 237,183.9 238.5,191.4 240.7,196.4 243.9,199 248,200.6 255,202.8 290,203.8 335,204.5 340,205.5 344,207 347.7,209.4 351,215 354,222 357,230 360.3,240" fill="none" stroke="#0000ff" stroke-width="0.85" stroke-linejoin="round" stroke-opacity="0.6"/>
<polyline points="207.5,247.8 271.2,247.8 271.4,230 272,200 273.2,165 273.8,157.1 274.4,168 275.5,200 276,215 276.4,220.5 277.2,221.8 280,222.5 345,222.8 350,224 355,228 358.5,233 360.3,240" fill="none" stroke="#ff0000" stroke-width="0.75" stroke-linejoin="round" stroke-opacity="0.55"/>
<polyline points="207.5,247.8 221.9,247.8 225.9,239.5 228.8,234.6 232.4,233.4 345,233.6 352.6,232.7 356,233 359,236 360.3,240 360.3,247.8" fill="none" stroke="#00d000" stroke-width="0.7" stroke-linejoin="round" stroke-opacity="0.7"/>
<path d="M212.45 248.9L215.55 248.9L214 246.2Z" fill="#00d000" stroke="#00d000" stroke-width="0.45" stroke-linejoin="miter"/>
<path d="M224.35 240.6L227.45 240.6L225.9 237.9Z" fill="#00d000" stroke="#00d000" stroke-width="0.45" stroke-linejoin="miter"/>
<path d="M227.25 235.6L230.35 235.6L228.8 232.9Z" fill="#00d000" stroke="#00d000" stroke-width="0.45" stroke-linejoin="miter"/>
<path d="M230.85 234.5L233.95 234.5L232.4 231.8Z" fill="#00d000" stroke="#00d000" stroke-width="0.45" stroke-linejoin="miter"/>
<path d="M239.15 234.51L242.25 234.51L240.7 231.81Z" fill="#00d000" stroke="#00d000" stroke-width="0.45" stroke-linejoin="miter"/>
<path d="M248.65 234.53L251.75 234.53L250.2 231.83Z" fill="#00d000" stroke="#00d000" stroke-width="0.45" stroke-linejoin="miter"/>
<path d="M253.95 234.54L257.05 234.54L255.5 231.84Z" fill="#00d000" stroke="#00d000" stroke-width="0.45" stroke-linejoin="miter"/>
<path d="M263.35 234.56L266.45 234.56L264.9 231.86Z" fill="#00d000" stroke="#00d000" stroke-width="0.45" stroke-linejoin="miter"/>
<path d="M272.25 234.57L275.35 234.57L273.8 231.87Z" fill="#00d000" stroke="#00d000" stroke-width="0.45" stroke-linejoin="miter"/>
<path d="M282.15 234.59L285.25 234.59L283.7 231.89Z" fill="#00d000" stroke="#00d000" stroke-width="0.45" stroke-linejoin="miter"/>
<path d="M290.95 234.61L294.05 234.61L292.5 231.91Z" fill="#00d000" stroke="#00d000" stroke-width="0.45" stroke-linejoin="miter"/>
<path d="M298.15 234.62L301.25 234.62L299.7 231.92Z" fill="#00d000" stroke="#00d000" stroke-width="0.45" stroke-linejoin="miter"/>
<path d="M307.45 234.64L310.55 234.64L309 231.94Z" fill="#00d000" stroke="#00d000" stroke-width="0.45" stroke-linejoin="miter"/>
<path d="M316.45 234.65L319.55 234.65L318 231.95Z" fill="#00d000" stroke="#00d000" stroke-width="0.45" stroke-linejoin="miter"/>
<path d="M326.25 234.67L329.35 234.67L327.8 231.97Z" fill="#00d000" stroke="#00d000" stroke-width="0.45" stroke-linejoin="miter"/>
<path d="M334.85 234.68L337.95 234.68L336.4 231.98Z" fill="#00d000" stroke="#00d000" stroke-width="0.45" stroke-linejoin="miter"/>
<path d="M339.15 234.69L342.25 234.69L340.7 231.99Z" fill="#00d000" stroke="#00d000" stroke-width="0.45" stroke-linejoin="miter"/>
<path d="M351.05 233.8L354.15 233.8L352.6 231.1Z" fill="#00d000" stroke="#00d000" stroke-width="0.45" stroke-linejoin="miter"/>
<polyline points="207.5,247.8 229.8,247.8 230.8,245.4 232.8,237.5 236.7,233.5 241.7,232.2 250.2,230.2 256.5,227.6 265,226.2 274.8,225.6 283.7,223 292.5,220.7 299.7,219.1 309,217 318,215.5 327.8,212.7 336.4,211.6 340.7,210.5 348.3,211.1 353.6,219.1 358,226.7 360.3,238 360.3,247.8" fill="none" stroke="#0000ff" stroke-width="0.7" stroke-linejoin="round" stroke-opacity="0.75"/>
<path d="M211.95 248.9L215.05 248.9L213.5 246.2Z" fill="#0000ff" stroke="#0000ff" stroke-width="0.45" stroke-linejoin="miter"/>
<path d="M229.25 246.5L232.35 246.5L230.8 243.8Z" fill="#0000ff" stroke="#0000ff" stroke-width="0.45" stroke-linejoin="miter"/>
<path d="M231.25 238.6L234.35 238.6L232.8 235.9Z" fill="#0000ff" stroke="#0000ff" stroke-width="0.45" stroke-linejoin="miter"/>
<path d="M235.15 234.6L238.25 234.6L236.7 231.9Z" fill="#0000ff" stroke="#0000ff" stroke-width="0.45" stroke-linejoin="miter"/>
<path d="M240.15 233.3L243.25 233.3L241.7 230.6Z" fill="#0000ff" stroke="#0000ff" stroke-width="0.45" stroke-linejoin="miter"/>
<path d="M248.65 231.3L251.75 231.3L250.2 228.6Z" fill="#0000ff" stroke="#0000ff" stroke-width="0.45" stroke-linejoin="miter"/>
<path d="M254.95 228.7L258.05 228.7L256.5 226Z" fill="#0000ff" stroke="#0000ff" stroke-width="0.45" stroke-linejoin="miter"/>
<path d="M263.35 227.32L266.45 227.32L264.9 224.62Z" fill="#0000ff" stroke="#0000ff" stroke-width="0.45" stroke-linejoin="miter"/>
<path d="M273.25 226.7L276.35 226.7L274.8 224Z" fill="#0000ff" stroke="#0000ff" stroke-width="0.45" stroke-linejoin="miter"/>
<path d="M282.15 224.1L285.25 224.1L283.7 221.4Z" fill="#0000ff" stroke="#0000ff" stroke-width="0.45" stroke-linejoin="miter"/>
<path d="M290.95 221.8L294.05 221.8L292.5 219.1Z" fill="#0000ff" stroke="#0000ff" stroke-width="0.45" stroke-linejoin="miter"/>
<path d="M298.15 220.2L301.25 220.2L299.7 217.5Z" fill="#0000ff" stroke="#0000ff" stroke-width="0.45" stroke-linejoin="miter"/>
<path d="M307.45 218.1L310.55 218.1L309 215.4Z" fill="#0000ff" stroke="#0000ff" stroke-width="0.45" stroke-linejoin="miter"/>
<path d="M316.45 216.6L319.55 216.6L318 213.9Z" fill="#0000ff" stroke="#0000ff" stroke-width="0.45" stroke-linejoin="miter"/>
<path d="M326.25 213.8L329.35 213.8L327.8 211.1Z" fill="#0000ff" stroke="#0000ff" stroke-width="0.45" stroke-linejoin="miter"/>
<path d="M334.85 212.7L337.95 212.7L336.4 210Z" fill="#0000ff" stroke="#0000ff" stroke-width="0.45" stroke-linejoin="miter"/>
<path d="M339.15 211.6L342.25 211.6L340.7 208.9Z" fill="#0000ff" stroke="#0000ff" stroke-width="0.45" stroke-linejoin="miter"/>
<path d="M346.75 212.2L349.85 212.2L348.3 209.5Z" fill="#0000ff" stroke="#0000ff" stroke-width="0.45" stroke-linejoin="miter"/>
<path d="M352.05 220.2L355.15 220.2L353.6 217.5Z" fill="#0000ff" stroke="#0000ff" stroke-width="0.45" stroke-linejoin="miter"/>
<path d="M356.45 227.8L359.55 227.8L358 225.1Z" fill="#0000ff" stroke="#0000ff" stroke-width="0.45" stroke-linejoin="miter"/>
<polyline points="207.5,247.8 267.8,247.8 271.8,242.4 273.8,234.5 274.8,225.6 277,222.7 348.3,222.8 352,225 355.8,227.8 358.5,231 360.3,234 360.3,247.8" fill="none" stroke="#ff0000" stroke-width="0.7" stroke-linejoin="round" stroke-opacity="0.6"/>
<path d="M212.95 248.9L216.05 248.9L214.5 246.2Z" fill="#ff0000" stroke="#ff0000" stroke-width="0.45" stroke-linejoin="miter"/>
<path d="M220.95 248.9L224.05 248.9L222.5 246.2Z" fill="#ff0000" stroke="#ff0000" stroke-width="0.45" stroke-linejoin="miter"/>
<path d="M229.95 248.9L233.05 248.9L231.5 246.2Z" fill="#ff0000" stroke="#ff0000" stroke-width="0.45" stroke-linejoin="miter"/>
<path d="M238.95 248.9L242.05 248.9L240.5 246.2Z" fill="#ff0000" stroke="#ff0000" stroke-width="0.45" stroke-linejoin="miter"/>
<path d="M247.75 248.9L250.85 248.9L249.3 246.2Z" fill="#ff0000" stroke="#ff0000" stroke-width="0.45" stroke-linejoin="miter"/>
<path d="M256.45 248.9L259.55 248.9L258 246.2Z" fill="#ff0000" stroke="#ff0000" stroke-width="0.45" stroke-linejoin="miter"/>
<path d="M266.25 248.9L269.35 248.9L267.8 246.2Z" fill="#ff0000" stroke="#ff0000" stroke-width="0.45" stroke-linejoin="miter"/>
<path d="M270.25 243.5L273.35 243.5L271.8 240.8Z" fill="#ff0000" stroke="#ff0000" stroke-width="0.45" stroke-linejoin="miter"/>
<path d="M272.25 235.6L275.35 235.6L273.8 232.9Z" fill="#ff0000" stroke="#ff0000" stroke-width="0.45" stroke-linejoin="miter"/>
<path d="M282.15 223.81L285.25 223.81L283.7 221.11Z" fill="#ff0000" stroke="#ff0000" stroke-width="0.45" stroke-linejoin="miter"/>
<path d="M290.95 223.82L294.05 223.82L292.5 221.12Z" fill="#ff0000" stroke="#ff0000" stroke-width="0.45" stroke-linejoin="miter"/>
<path d="M298.15 223.83L301.25 223.83L299.7 221.13Z" fill="#ff0000" stroke="#ff0000" stroke-width="0.45" stroke-linejoin="miter"/>
<path d="M307.45 223.84L310.55 223.84L309 221.14Z" fill="#ff0000" stroke="#ff0000" stroke-width="0.45" stroke-linejoin="miter"/>
<path d="M316.45 223.86L319.55 223.86L318 221.16Z" fill="#ff0000" stroke="#ff0000" stroke-width="0.45" stroke-linejoin="miter"/>
<path d="M326.25 223.87L329.35 223.87L327.8 221.17Z" fill="#ff0000" stroke="#ff0000" stroke-width="0.45" stroke-linejoin="miter"/>
<path d="M334.85 223.88L337.95 223.88L336.4 221.18Z" fill="#ff0000" stroke="#ff0000" stroke-width="0.45" stroke-linejoin="miter"/>
<path d="M337.65 223.89L340.75 223.89L339.2 221.19Z" fill="#ff0000" stroke="#ff0000" stroke-width="0.45" stroke-linejoin="miter"/>
<path d="M346.75 223.9L349.85 223.9L348.3 221.2Z" fill="#ff0000" stroke="#ff0000" stroke-width="0.45" stroke-linejoin="miter"/>
<path d="M354.25 228.9L357.35 228.9L355.8 226.2Z" fill="#ff0000" stroke="#ff0000" stroke-width="0.45" stroke-linejoin="miter"/>
<path d="M358.55 234.1L361.65 234.1L360.1 231.4Z" fill="#ff0000" stroke="#ff0000" stroke-width="0.45" stroke-linejoin="miter"/>
<path d="M358.55 241.1L361.65 241.1L360.1 238.4Z" fill="#ff0000" stroke="#ff0000" stroke-width="0.45" stroke-linejoin="miter"/>
<polyline points="207.5,247.8 246,247.8" fill="none" stroke="#00d000" stroke-width="0.8" stroke-linejoin="round" stroke-dasharray="2.2 2.2" stroke-opacity="0.8"/>
<polyline points="246,247.8 246.4,230 246.9,215 247.3,205 247.9,201.9 249.2,204 250.6,208.3" fill="none" stroke="#00d000" stroke-width="0.9" stroke-linejoin="round" stroke-dasharray="2.2 2.2" stroke-opacity="0.95"/>
<polyline points="246.5,247.8 246.9,230 247.4,210 247.9,203 249.5,206 250.6,208.3" fill="none" stroke="#0000ff" stroke-width="0.8" stroke-linejoin="round" stroke-dasharray="2.2 2.2" stroke-opacity="0.4"/>
<polyline points="250.6,208.3 347.2,208.3 351,211 354.5,218 358,228 360.3,240" fill="none" stroke="#2040e8" stroke-width="1.0" stroke-linejoin="round" stroke-dasharray="2.2 2.2" stroke-opacity="0.9"/>
<polyline points="207.5,247.8 273.5,247.8 274.5,235 275.5,225 276.5,222.7 279,222.8 348,223 352,225 356,229 360.3,240" fill="none" stroke="#ff0000" stroke-width="0.9" stroke-linejoin="round" stroke-dasharray="2.2 2.2" stroke-opacity="0.85"/>
</g>
<path d="M303.9 149H322.3" stroke="#00d000" stroke-width="0.75" stroke-opacity="0.6"/>
<path d="M303.9 154.02H322.3" stroke="#0000ff" stroke-width="0.75" stroke-opacity="0.6"/>
<path d="M303.9 159.04H322.3" stroke="#ff0000" stroke-width="0.75" stroke-opacity="0.6"/>
<path d="M303.9 164.06H322.3" stroke="#00d000" stroke-width="0.75" stroke-opacity="0.75"/>
<path d="M311.55 165.16L314.65 165.16L313.1 162.46Z" fill="#00d000" stroke="#00d000" stroke-width="0.45" stroke-linejoin="miter"/>
<path d="M303.9 169.08H322.3" stroke="#0000ff" stroke-width="0.75" stroke-opacity="0.75"/>
<path d="M311.55 170.18L314.65 170.18L313.1 167.48Z" fill="#0000ff" stroke="#0000ff" stroke-width="0.45" stroke-linejoin="miter"/>
<path d="M303.9 174.1H322.3" stroke="#ff0000" stroke-width="0.75" stroke-opacity="0.75"/>
<path d="M311.55 175.2L314.65 175.2L313.1 172.5Z" fill="#ff0000" stroke="#ff0000" stroke-width="0.45" stroke-linejoin="miter"/>
<path d="M303.6 179.12H323.5" stroke="#00d000" stroke-width="0.75" stroke-opacity="0.9" stroke-dasharray="2.3 2.2"/>
<path d="M303.6 184.14H323.5" stroke="#0000ff" stroke-width="0.75" stroke-opacity="0.9" stroke-dasharray="2.3 2.2"/>
<path d="M303.6 189.16H323.5" stroke="#ff0000" stroke-width="0.75" stroke-opacity="0.9" stroke-dasharray="2.3 2.2"/>
<g font-family="Liberation Serif, serif" font-weight="bold" font-size="5.2" fill="#3a3a3a"><text x="326.05" y="150.7" textLength="14.38" lengthAdjust="spacingAndGlyphs">2T-8%-T</text><text x="326.05" y="155.72" textLength="14.38" lengthAdjust="spacingAndGlyphs">2T-7%-T</text><text x="326.06" y="160.74" textLength="15.19" lengthAdjust="spacingAndGlyphs">2T-11%-T</text><text x="326.05" y="165.76" textLength="16.21" lengthAdjust="spacingAndGlyphs">2T-8%-Tv</text><text x="326.05" y="170.78" textLength="16.21" lengthAdjust="spacingAndGlyphs">2T-7%-Tv</text><text x="326.05" y="175.8" textLength="17.62" lengthAdjust="spacingAndGlyphs">2T-11%-Tv</text><text x="325.92" y="180.82" textLength="13.82" lengthAdjust="spacingAndGlyphs">1T-8%-T</text><text x="325.92" y="185.84" textLength="13.82" lengthAdjust="spacingAndGlyphs">1T-7%-T</text><text x="325.94" y="190.86" textLength="14.31" lengthAdjust="spacingAndGlyphs">1T-11%-T</text></g>
</g>
<g>
<path d="M391.7 144H544.5V247.8" fill="none" stroke="#5a5a5a" stroke-width="0.8"/>
<path d="M391.7 143.8V247.8H544.5" fill="none" stroke="#333" stroke-width="0.8"/>
<path d="M391.7 245.72H392.6M391.7 243.64H392.6M391.7 241.56H392.6M391.7 239.48H392.6M391.7 235.32H392.6M391.7 233.24H392.6M391.7 231.16H392.6M391.7 229.08H392.6M391.7 224.92H392.6M391.7 222.84H392.6M391.7 220.76H392.6M391.7 218.68H392.6M391.7 214.52H392.6M391.7 212.44H392.6M391.7 210.36H392.6M391.7 208.28H392.6M391.7 204.12H392.6M391.7 202.04H392.6M391.7 199.96H392.6M391.7 197.88H392.6M391.7 193.72H392.6M391.7 191.64H392.6M391.7 189.56H392.6M391.7 187.48H392.6M391.7 183.32H392.6M391.7 181.24H392.6M391.7 179.16H392.6M391.7 177.08H392.6M391.7 172.92H392.6M391.7 170.84H392.6M391.7 168.76H392.6M391.7 166.68H392.6M391.7 162.52H392.6M391.7 160.44H392.6M391.7 158.36H392.6M391.7 156.28H392.6M391.7 152.12H392.6M391.7 150.04H392.6M391.7 147.96H392.6M391.7 145.88H392.6" stroke="#333" stroke-width="0.5" fill="none"/>
<path d="M391.5 247.8V245.6M422.5 247.8V245.6M452.5 247.8V245.6M483.5 247.8V245.6M513.5 247.8V245.6M544.5 247.8V245.6M391.7 247.5H393.9M391.7 237.5H393.9M391.7 227.5H393.9M391.7 216.5H393.9M391.7 206.5H393.9M391.7 195.5H393.9M391.7 185.5H393.9M391.7 175.5H393.9M391.7 164.5H393.9M391.7 154.5H393.9M391.7 143.5H393.9" stroke="#333" stroke-width="0.8" fill="none"/>
<g font-family="Liberation Serif, serif" font-size="5.2" fill="#333" stroke="#333" stroke-width="0.06"><text x="391.7" y="253.8" text-anchor="middle">-250</text><text x="422.26" y="253.8" text-anchor="middle">-200</text><text x="452.82" y="253.8" text-anchor="middle">-150</text><text x="483.38" y="253.8" text-anchor="middle">-100</text><text x="513.94" y="253.8" text-anchor="middle">-50</text><text x="544.5" y="253.8" text-anchor="middle">0</text><text x="390.5" y="239.7" text-anchor="end">5.0</text><text x="390.5" y="229.3" text-anchor="end">10.0</text><text x="390.5" y="218.9" text-anchor="end">15.0</text><text x="390.5" y="208.5" text-anchor="end">20.0</text><text x="390.5" y="198.1" text-anchor="end">25.0</text><text x="390.5" y="187.7" text-anchor="end">30.0</text><text x="390.5" y="177.3" text-anchor="end">35.0</text><text x="390.5" y="166.9" text-anchor="end">40.0</text><text x="390.5" y="156.5" text-anchor="end">45.0</text><text x="390.5" y="146.1" text-anchor="end">50.0</text></g>
<text x="468.1" y="257.5" text-anchor="middle" font-family="Liberation Serif, serif" font-weight="bold" font-size="5.8" fill="#222">x(mm)</text>
<text transform="translate(377.5 195.6) rotate(-90)" x="0" y="0" text-anchor="middle" font-family="Liberation Serif, serif" font-weight="bold" font-size="5.6" fill="#222" textLength="51.2" lengthAdjust="spacingAndGlyphs">Temperature(10<tspan font-size="3.6" dy="-2">3</tspan><tspan dy="2">K)</tspan></text>
<g clip-path="url(#c5)">
<polyline points="391.7,247.8 406.9,247.8 407.1,230 407.4,202 408,175 408.6,155 408.9,146 409.1,144.2 409.5,146 410.2,155 411.1,167.9 412.4,180.9 413.9,189.5 416,194.9 420.3,198.5 427.9,200.7 435,200.5 523,199.9 526,200.5 530.5,203.2 533.9,207.1 537.4,212.7 539.5,218 541.5,225 543.5,233 544.5,240" fill="none" stroke="#00d000" stroke-width="0.85" stroke-linejoin="round" stroke-opacity="0.8"/>
<polyline points="391.7,247.8 410.3,247.8 410.8,225 411.7,202 412.3,175 412.8,157 413,149 413.2,146.7 413.6,149 414.5,157.1 415.4,167.9 416.7,178.7 418.2,187.3 421,193.8 424.7,197.7 430.1,200.6 440,201.8 522,202.4 525,202.8 527.9,203.7 533,207.5 536.5,212.7 539,219 541.5,227 543.5,235 544.5,240" fill="none" stroke="#0000ff" stroke-width="0.85" stroke-linejoin="round" stroke-opacity="0.6"/>
<polyline points="391.7,247.8 452.8,247.8 453.2,215 454,175 455.5,147.4 457,165 458.5,190 459.8,218.7 461,222 465,222.3 533,222.8 537,224 540,227 542.5,231 544.5,240" fill="none" stroke="#ff0000" stroke-width="0.75" stroke-linejoin="round" stroke-opacity="0.55"/>
<polyline points="391.7,247.8 405.5,247.8 408.9,240.5 410.3,235.5 412.8,231 416.8,229.6 536.5,229.5 540,231 542.5,234 544.5,240 544.5,247.8" fill="none" stroke="#00d000" stroke-width="0.7" stroke-linejoin="round" stroke-opacity="0.7"/>
<path d="M407.35 241.6L410.45 241.6L408.9 238.9Z" fill="#00d000" stroke="#00d000" stroke-width="0.45" stroke-linejoin="miter"/>
<path d="M408.75 236.6L411.85 236.6L410.3 233.9Z" fill="#00d000" stroke="#00d000" stroke-width="0.45" stroke-linejoin="miter"/>
<path d="M415.25 230.7L418.35 230.7L416.8 228Z" fill="#00d000" stroke="#00d000" stroke-width="0.45" stroke-linejoin="miter"/>
<path d="M424.15 230.69L427.25 230.69L425.7 227.99Z" fill="#00d000" stroke="#00d000" stroke-width="0.45" stroke-linejoin="miter"/>
<path d="M433.05 230.69L436.15 230.69L434.6 227.99Z" fill="#00d000" stroke="#00d000" stroke-width="0.45" stroke-linejoin="miter"/>
<path d="M439.45 230.68L442.55 230.68L441 227.98Z" fill="#00d000" stroke="#00d000" stroke-width="0.45" stroke-linejoin="miter"/>
<path d="M448.35 230.67L451.45 230.67L449.9 227.97Z" fill="#00d000" stroke="#00d000" stroke-width="0.45" stroke-linejoin="miter"/>
<path d="M466.55 230.66L469.65 230.66L468.1 227.96Z" fill="#00d000" stroke="#00d000" stroke-width="0.45" stroke-linejoin="miter"/>
<path d="M475.65 230.65L478.75 230.65L477.2 227.95Z" fill="#00d000" stroke="#00d000" stroke-width="0.45" stroke-linejoin="miter"/>
<path d="M482.95 230.64L486.05 230.64L484.5 227.94Z" fill="#00d000" stroke="#00d000" stroke-width="0.45" stroke-linejoin="miter"/>
<path d="M491.75 230.64L494.85 230.64L493.3 227.94Z" fill="#00d000" stroke="#00d000" stroke-width="0.45" stroke-linejoin="miter"/>
<path d="M501.45 230.63L504.55 230.63L503 227.93Z" fill="#00d000" stroke="#00d000" stroke-width="0.45" stroke-linejoin="miter"/>
<path d="M510.15 230.62L513.25 230.62L511.7 227.92Z" fill="#00d000" stroke="#00d000" stroke-width="0.45" stroke-linejoin="miter"/>
<path d="M519.15 230.61L522.25 230.61L520.7 227.91Z" fill="#00d000" stroke="#00d000" stroke-width="0.45" stroke-linejoin="miter"/>
<path d="M523.45 230.61L526.55 230.61L525 227.91Z" fill="#00d000" stroke="#00d000" stroke-width="0.45" stroke-linejoin="miter"/>
<path d="M531.75 230.6L534.85 230.6L533.3 227.9Z" fill="#00d000" stroke="#00d000" stroke-width="0.45" stroke-linejoin="miter"/>
<path d="M534.95 230.6L538.05 230.6L536.5 227.9Z" fill="#00d000" stroke="#00d000" stroke-width="0.45" stroke-linejoin="miter"/>
<polyline points="391.7,247.8 409.9,247.8 411.4,243.4 413.8,236.5 416.2,230.2 425.7,228.6 434.6,227.6 440.5,227 449.9,226.5 458.8,226 468.1,225 477.2,222.8 493.3,222.4 503,221.3 511.7,219.8 520.7,218 530.7,217 537.6,220.2 541.9,227.8 544.5,240 544.5,247.8" fill="none" stroke="#0000ff" stroke-width="0.7" stroke-linejoin="round" stroke-opacity="0.75"/>
<path d="M409.85 244.5L412.95 244.5L411.4 241.8Z" fill="#0000ff" stroke="#0000ff" stroke-width="0.45" stroke-linejoin="miter"/>
<path d="M412.25 237.6L415.35 237.6L413.8 234.9Z" fill="#0000ff" stroke="#0000ff" stroke-width="0.45" stroke-linejoin="miter"/>
<path d="M414.65 231.3L417.75 231.3L416.2 228.6Z" fill="#0000ff" stroke="#0000ff" stroke-width="0.45" stroke-linejoin="miter"/>
<path d="M424.15 229.7L427.25 229.7L425.7 227Z" fill="#0000ff" stroke="#0000ff" stroke-width="0.45" stroke-linejoin="miter"/>
<path d="M433.05 228.7L436.15 228.7L434.6 226Z" fill="#0000ff" stroke="#0000ff" stroke-width="0.45" stroke-linejoin="miter"/>
<path d="M439.45 228.07L442.55 228.07L441 225.37Z" fill="#0000ff" stroke="#0000ff" stroke-width="0.45" stroke-linejoin="miter"/>
<path d="M448.35 227.6L451.45 227.6L449.9 224.9Z" fill="#0000ff" stroke="#0000ff" stroke-width="0.45" stroke-linejoin="miter"/>
<path d="M457.25 227.1L460.35 227.1L458.8 224.4Z" fill="#0000ff" stroke="#0000ff" stroke-width="0.45" stroke-linejoin="miter"/>
<path d="M466.55 226.1L469.65 226.1L468.1 223.4Z" fill="#0000ff" stroke="#0000ff" stroke-width="0.45" stroke-linejoin="miter"/>
<path d="M475.65 223.9L478.75 223.9L477.2 221.2Z" fill="#0000ff" stroke="#0000ff" stroke-width="0.45" stroke-linejoin="miter"/>
<path d="M482.95 223.72L486.05 223.72L484.5 221.02Z" fill="#0000ff" stroke="#0000ff" stroke-width="0.45" stroke-linejoin="miter"/>
<path d="M491.75 223.5L494.85 223.5L493.3 220.8Z" fill="#0000ff" stroke="#0000ff" stroke-width="0.45" stroke-linejoin="miter"/>
<path d="M501.45 222.4L504.55 222.4L503 219.7Z" fill="#0000ff" stroke="#0000ff" stroke-width="0.45" stroke-linejoin="miter"/>
<path d="M510.15 220.9L513.25 220.9L511.7 218.2Z" fill="#0000ff" stroke="#0000ff" stroke-width="0.45" stroke-linejoin="miter"/>
<path d="M519.15 219.1L522.25 219.1L520.7 216.4Z" fill="#0000ff" stroke="#0000ff" stroke-width="0.45" stroke-linejoin="miter"/>
<path d="M529.15 218.1L532.25 218.1L530.7 215.4Z" fill="#0000ff" stroke="#0000ff" stroke-width="0.45" stroke-linejoin="miter"/>
<path d="M536.05 221.3L539.15 221.3L537.6 218.6Z" fill="#0000ff" stroke="#0000ff" stroke-width="0.45" stroke-linejoin="miter"/>
<path d="M540.35 228.9L543.45 228.9L541.9 226.2Z" fill="#0000ff" stroke="#0000ff" stroke-width="0.45" stroke-linejoin="miter"/>
<polyline points="391.7,247.8 449.9,247.8 454.2,242.4 456.8,232.5 458.8,223.7 461,222.3 533.3,222.8 537,225 540,228 542.5,232 544.5,236 544.5,247.8" fill="none" stroke="#ff0000" stroke-width="0.7" stroke-linejoin="round" stroke-opacity="0.6"/>
<path d="M397.45 248.9L400.55 248.9L399 246.2Z" fill="#ff0000" stroke="#ff0000" stroke-width="0.45" stroke-linejoin="miter"/>
<path d="M406.35 248.9L409.45 248.9L407.9 246.2Z" fill="#ff0000" stroke="#ff0000" stroke-width="0.45" stroke-linejoin="miter"/>
<path d="M415.25 248.9L418.35 248.9L416.8 246.2Z" fill="#ff0000" stroke="#ff0000" stroke-width="0.45" stroke-linejoin="miter"/>
<path d="M424.15 248.9L427.25 248.9L425.7 246.2Z" fill="#ff0000" stroke="#ff0000" stroke-width="0.45" stroke-linejoin="miter"/>
<path d="M433.05 248.9L436.15 248.9L434.6 246.2Z" fill="#ff0000" stroke="#ff0000" stroke-width="0.45" stroke-linejoin="miter"/>
<path d="M438.95 248.9L442.05 248.9L440.5 246.2Z" fill="#ff0000" stroke="#ff0000" stroke-width="0.45" stroke-linejoin="miter"/>
<path d="M448.35 248.9L451.45 248.9L449.9 246.2Z" fill="#ff0000" stroke="#ff0000" stroke-width="0.45" stroke-linejoin="miter"/>
<path d="M452.65 243.5L455.75 243.5L454.2 240.8Z" fill="#ff0000" stroke="#ff0000" stroke-width="0.45" stroke-linejoin="miter"/>
<path d="M455.25 233.6L458.35 233.6L456.8 230.9Z" fill="#ff0000" stroke="#ff0000" stroke-width="0.45" stroke-linejoin="miter"/>
<path d="M457.25 224.8L460.35 224.8L458.8 222.1Z" fill="#ff0000" stroke="#ff0000" stroke-width="0.45" stroke-linejoin="miter"/>
<path d="M466.55 223.45L469.65 223.45L468.1 220.75Z" fill="#ff0000" stroke="#ff0000" stroke-width="0.45" stroke-linejoin="miter"/>
<path d="M475.05 223.51L478.15 223.51L476.6 220.81Z" fill="#ff0000" stroke="#ff0000" stroke-width="0.45" stroke-linejoin="miter"/>
<path d="M482.95 223.56L486.05 223.56L484.5 220.86Z" fill="#ff0000" stroke="#ff0000" stroke-width="0.45" stroke-linejoin="miter"/>
<path d="M491.75 223.62L494.85 223.62L493.3 220.92Z" fill="#ff0000" stroke="#ff0000" stroke-width="0.45" stroke-linejoin="miter"/>
<path d="M501.45 223.69L504.55 223.69L503 220.99Z" fill="#ff0000" stroke="#ff0000" stroke-width="0.45" stroke-linejoin="miter"/>
<path d="M510.15 223.75L513.25 223.75L511.7 221.05Z" fill="#ff0000" stroke="#ff0000" stroke-width="0.45" stroke-linejoin="miter"/>
<path d="M519.15 223.81L522.25 223.81L520.7 221.11Z" fill="#ff0000" stroke="#ff0000" stroke-width="0.45" stroke-linejoin="miter"/>
<path d="M523.45 223.84L526.55 223.84L525 221.14Z" fill="#ff0000" stroke="#ff0000" stroke-width="0.45" stroke-linejoin="miter"/>
<path d="M531.75 223.9L534.85 223.9L533.3 221.2Z" fill="#ff0000" stroke="#ff0000" stroke-width="0.45" stroke-linejoin="miter"/>
<path d="M542.75 234.1L545.85 234.1L544.3 231.4Z" fill="#ff0000" stroke="#ff0000" stroke-width="0.45" stroke-linejoin="miter"/>
<path d="M542.75 241.6L545.85 241.6L544.3 238.9Z" fill="#ff0000" stroke="#ff0000" stroke-width="0.45" stroke-linejoin="miter"/>
<polyline points="391.7,247.8 427.4,247.8" fill="none" stroke="#00d000" stroke-width="0.8" stroke-linejoin="round" stroke-dasharray="2.2 2.2" stroke-opacity="0.8"/>
<polyline points="427.4,247.8 427.7,215 428.5,205 430.6,197 432,202 433.6,208.2" fill="none" stroke="#00d000" stroke-width="0.9" stroke-linejoin="round" stroke-dasharray="2.2 2.2" stroke-opacity="0.95"/>
<polyline points="427.8,247.8 428,210 429,202 430.6,199 432,204 433.6,208.2" fill="none" stroke="#0000ff" stroke-width="0.8" stroke-linejoin="round" stroke-dasharray="2.2 2.2" stroke-opacity="0.4"/>
<polyline points="433.6,208.2 526,208.2 528.7,208.5 533.9,211.9 537,217 540,224 542.5,232 544.5,240" fill="none" stroke="#2040e8" stroke-width="1.0" stroke-linejoin="round" stroke-dasharray="2.2 2.2" stroke-opacity="0.9"/>
<polyline points="391.7,247.8 456.5,247.8 457.5,235 458.5,228 459.5,223 462,222.5 530,222.8 536,224.5 540,228 544.5,240" fill="none" stroke="#ff0000" stroke-width="0.9" stroke-linejoin="round" stroke-dasharray="2.2 2.2" stroke-opacity="0.85"/>
</g>
<path d="M488.9 149H507.3" stroke="#00d000" stroke-width="0.75" stroke-opacity="0.6"/>
<path d="M488.9 154.02H507.3" stroke="#0000ff" stroke-width="0.75" stroke-opacity="0.6"/>
<path d="M488.9 159.04H507.3" stroke="#ff0000" stroke-width="0.75" stroke-opacity="0.6"/>
<path d="M488.9 164.06H507.3" stroke="#00d000" stroke-width="0.75" stroke-opacity="0.75"/>
<path d="M496.55 165.16L499.65 165.16L498.1 162.46Z" fill="#00d000" stroke="#00d000" stroke-width="0.45" stroke-linejoin="miter"/>
<path d="M488.9 169.08H507.3" stroke="#0000ff" stroke-width="0.75" stroke-opacity="0.75"/>
<path d="M496.55 170.18L499.65 170.18L498.1 167.48Z" fill="#0000ff" stroke="#0000ff" stroke-width="0.45" stroke-linejoin="miter"/>
<path d="M488.9 174.1H507.3" stroke="#ff0000" stroke-width="0.75" stroke-opacity="0.75"/>
<path d="M496.55 175.2L499.65 175.2L498.1 172.5Z" fill="#ff0000" stroke="#ff0000" stroke-width="0.45" stroke-linejoin="miter"/>
<path d="M488.6 179.12H508.5" stroke="#00d000" stroke-width="0.75" stroke-opacity="0.9" stroke-dasharray="2.3 2.2"/>
<path d="M488.6 184.14H508.5" stroke="#0000ff" stroke-width="0.75" stroke-opacity="0.9" stroke-dasharray="2.3 2.2"/>
<path d="M488.6 189.16H508.5" stroke="#ff0000" stroke-width="0.75" stroke-opacity="0.9" stroke-dasharray="2.3 2.2"/>
<g font-family="Liberation Serif, serif" font-weight="bold" font-size="5.2" fill="#3a3a3a"><text x="511.05" y="150.7" textLength="14.38" lengthAdjust="spacingAndGlyphs">2T-8%-T</text><text x="511.05" y="155.72" textLength="14.38" lengthAdjust="spacingAndGlyphs">2T-7%-T</text><text x="511.06" y="160.74" textLength="15.19" lengthAdjust="spacingAndGlyphs">2T-11%-T</text><text x="511.05" y="165.76" textLength="16.21" lengthAdjust="spacingAndGlyphs">2T-8%-Tv</text><text x="511.05" y="170.78" textLength="16.21" lengthAdjust="spacingAndGlyphs">2T-7%-Tv</text><text x="511.05" y="175.8" textLength="17.62" lengthAdjust="spacingAndGlyphs">2T-11%-Tv</text><text x="510.92" y="180.82" textLength="13.82" lengthAdjust="spacingAndGlyphs">1T-8%-T</text><text x="510.92" y="185.84" textLength="13.82" lengthAdjust="spacingAndGlyphs">1T-7%-T</text><text x="510.94" y="190.86" textLength="14.31" lengthAdjust="spacingAndGlyphs">1T-11%-T</text></g>
</g>
<g font-family="Liberation Serif, serif" font-size="10.6" fill="#1a1a1a" stroke="#1a1a1a" stroke-width="0.09">
<text x="24.76" y="130.8" font-weight="bold" textLength="13.92" lengthAdjust="spacingAndGlyphs">(d)</text>
<text x="41.23" y="130.8" font-style="italic" textLength="14.66" lengthAdjust="spacingAndGlyphs">Ma</text>
<text x="58.41" y="130.8" textLength="5.86" lengthAdjust="spacingAndGlyphs">=</text>
<text x="66.2" y="130.8" textLength="26.72" lengthAdjust="spacingAndGlyphs">34.34,</text>
<text x="96.42" y="130.8" textLength="56.94" lengthAdjust="spacingAndGlyphs">Dunn-Kang</text>
<text x="223.44" y="130.8" font-weight="bold" textLength="13.13" lengthAdjust="spacingAndGlyphs">(e)</text>
<text x="238.63" y="130.8" font-style="italic" textLength="15.17" lengthAdjust="spacingAndGlyphs">Ma</text>
<text x="255.64" y="130.8" textLength="5.51" lengthAdjust="spacingAndGlyphs">=</text>
<text x="263.29" y="130.8" textLength="27.14" lengthAdjust="spacingAndGlyphs">34.34,</text>
<text x="293.05" y="130.8" textLength="31.12" lengthAdjust="spacingAndGlyphs">Gupta</text>
<text x="412.95" y="130.8" font-weight="bold" textLength="11.56" lengthAdjust="spacingAndGlyphs">(f)</text>
<text x="427.13" y="130.8" font-style="italic" textLength="14.56" lengthAdjust="spacingAndGlyphs">Ma</text>
<text x="443.95" y="130.8" textLength="5.39" lengthAdjust="spacingAndGlyphs">=</text>
<text x="451.6" y="130.8" textLength="26.61" lengthAdjust="spacingAndGlyphs">34.34,</text>
<text x="481.71" y="130.8" textLength="22.2" lengthAdjust="spacingAndGlyphs">Park</text>
<text x="24.96" y="273.9" font-weight="bold" textLength="13.36" lengthAdjust="spacingAndGlyphs">(g)</text>
<text x="41.23" y="273.9" font-style="italic" textLength="14.46" lengthAdjust="spacingAndGlyphs">Ma</text>
<text x="57.92" y="273.9" textLength="5.75" lengthAdjust="spacingAndGlyphs">=</text>
<text x="65.59" y="273.9" textLength="27.03" lengthAdjust="spacingAndGlyphs">38.94,</text>
<text x="96.42" y="273.9" textLength="56.94" lengthAdjust="spacingAndGlyphs">Dunn-Kang</text>
<text x="223.29" y="273.9" font-weight="bold" textLength="13.17" lengthAdjust="spacingAndGlyphs">(h)</text>
<text x="239.13" y="273.9" font-style="italic" textLength="14.76" lengthAdjust="spacingAndGlyphs">Ma</text>
<text x="256.41" y="273.9" textLength="5.86" lengthAdjust="spacingAndGlyphs">=</text>
<text x="264.2" y="273.9" textLength="26.72" lengthAdjust="spacingAndGlyphs">38.94,</text>
<text x="293.56" y="273.9" textLength="30.61" lengthAdjust="spacingAndGlyphs">Gupta</text>
<text x="413.26" y="273.9" font-weight="bold" textLength="10.78" lengthAdjust="spacingAndGlyphs">(i)</text>
<text x="426.63" y="273.9" font-style="italic" textLength="14.66" lengthAdjust="spacingAndGlyphs">Ma</text>
<text x="443.64" y="273.9" textLength="5.51" lengthAdjust="spacingAndGlyphs">=</text>
<text x="451.29" y="273.9" textLength="26.93" lengthAdjust="spacingAndGlyphs">38.94,</text>
<text x="481.21" y="273.9" textLength="22.2" lengthAdjust="spacingAndGlyphs">Park</text>
</g></svg>
</body></html>
